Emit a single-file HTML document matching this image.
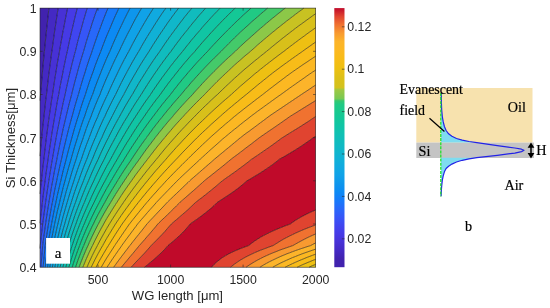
<!DOCTYPE html>
<html><head><meta charset="utf-8"><title>Figure</title>
<style>html,body{margin:0;padding:0;background:#fff}svg{display:block}text{font-family:"Liberation Sans",sans-serif;fill:#262626}.s{font-family:"Liberation Serif",serif;fill:#000;stroke:#000;stroke-width:0.2px}</style>
</head><body>
<svg width="550" height="308" viewBox="0 0 550 308">
<defs><linearGradient id="cb" x1="0" y1="1" x2="0" y2="0"><stop offset="0.0000" stop-color="#4122ae"/><stop offset="0.0323" stop-color="#4122ae"/><stop offset="0.0645" stop-color="#4429c4"/><stop offset="0.0968" stop-color="#4731d6"/><stop offset="0.1290" stop-color="#463ae6"/><stop offset="0.1613" stop-color="#4046f0"/><stop offset="0.1935" stop-color="#3656f8"/><stop offset="0.2258" stop-color="#2868fa"/><stop offset="0.2581" stop-color="#167afa"/><stop offset="0.2903" stop-color="#0c8af4"/><stop offset="0.3226" stop-color="#0e96ec"/><stop offset="0.3548" stop-color="#10a2e8"/><stop offset="0.3871" stop-color="#10aae0"/><stop offset="0.4194" stop-color="#10b1d6"/><stop offset="0.4516" stop-color="#10b7ca"/><stop offset="0.4839" stop-color="#10bcbe"/><stop offset="0.5161" stop-color="#10c1b2"/><stop offset="0.5484" stop-color="#10c5a4"/><stop offset="0.5806" stop-color="#14c896"/><stop offset="0.6280" stop-color="#20ca84"/><stop offset="0.6420" stop-color="#34c870"/><stop offset="0.6500" stop-color="#78c854"/><stop offset="0.6840" stop-color="#9cc844"/><stop offset="0.6930" stop-color="#d2c21e"/><stop offset="0.7300" stop-color="#dcc018"/><stop offset="0.7700" stop-color="#eec012"/><stop offset="0.8065" stop-color="#f8bc18"/><stop offset="0.8387" stop-color="#fcb822"/><stop offset="0.8710" stop-color="#fcb42a"/><stop offset="0.9032" stop-color="#f89a30"/><stop offset="0.9355" stop-color="#f07230"/><stop offset="0.9677" stop-color="#e04430"/><stop offset="1.0000" stop-color="#c00a2a"/></linearGradient></defs>
<rect width="550" height="308" fill="#fff"/>
<g><path d="M40.0 94.5 L40.0 100.5 L40.5 94.5 L42.4 72.9 L42.9 66.9 L44.4 51.3 L45.8 37.0 L46.6 29.7 L48.7 10.3 L49.0 8.1 L48.7 8.1 L45.8 8.1 L42.9 8.1 L40.0 8.1 L40.0 29.7 L40.0 51.3 L40.0 72.9 L40.0 94.5Z" fill="#4122ae"/>
<path d="M40.0 137.7 L40.0 156.1 L41.7 137.6 L42.9 125.8 L44.0 116.1 L45.8 99.7 L46.5 94.5 L48.7 75.1 L49.0 72.9 L51.6 53.1 L51.9 51.3 L54.5 32.0 L54.9 29.7 L57.4 12.8 L58.2 8.1 L57.4 8.1 L54.5 8.1 L51.6 8.1 L49.0 8.1 L48.7 10.3 L46.6 29.7 L45.8 37.0 L44.4 51.3 L42.9 66.9 L42.4 72.9 L40.5 94.5 L40.0 100.5 L40.0 116.1 L40.0 137.7Z" fill="#4429c4"/>
<path d="M40.0 180.8 L40.0 193.9 L41.4 180.8 L42.9 167.0 L43.9 159.2 L45.8 142.5 L46.4 137.7 L48.7 120.3 L49.3 116.1 L51.6 100.1 L52.5 94.5 L54.5 80.8 L55.8 72.9 L57.4 62.9 L59.5 51.3 L60.3 46.3 L63.2 30.4 L63.4 29.7 L66.1 15.3 L67.6 8.1 L66.1 8.1 L63.2 8.1 L60.3 8.1 L58.2 8.1 L57.4 12.8 L54.9 29.7 L54.5 32.0 L51.9 51.3 L51.6 53.1 L49.0 72.9 L48.7 75.1 L46.5 94.5 L45.8 99.7 L44.0 116.1 L42.9 125.8 L41.7 137.7 L40.0 156.1 L40.0 159.2 L40.0 180.8Z" fill="#4731d6"/>
<path d="M40.0 202.4 L40.0 223.2 L42.4 202.4 L42.9 197.6 L45.1 180.8 L45.8 175.0 L48.1 159.2 L48.7 154.6 L51.3 137.7 L51.6 135.3 L54.5 117.7 L54.8 116.1 L57.4 101.2 L58.7 94.5 L60.3 85.4 L62.8 72.9 L63.2 70.5 L66.1 56.5 L67.3 51.3 L69.0 43.0 L71.9 30.3 L72.1 29.7 L74.8 17.8 L77.3 8.1 L74.8 8.1 L71.9 8.1 L69.0 8.1 L67.6 8.1 L66.1 15.3 L63.4 29.7 L63.2 30.4 L60.3 46.3 L59.5 51.3 L57.4 62.9 L55.8 72.9 L54.5 80.8 L52.5 94.5 L51.6 100.1 L49.3 116.1 L48.7 120.3 L46.4 137.6 L45.8 142.5 L43.9 159.2 L42.9 167.0 L41.4 180.8 L40.0 193.9 L40.0 202.4Z" fill="#463ae6"/>
<path d="M40.0 245.6 L40.0 248.5 L40.2 245.6 L42.7 224.0 L42.9 222.3 L45.6 202.4 L45.8 200.9 L48.7 181.6 L48.8 180.8 L51.6 163.7 L52.4 159.2 L54.5 146.7 L56.2 137.7 L57.4 131.0 L60.3 116.6 L60.4 116.1 L63.2 102.7 L65.1 94.5 L66.1 89.6 L69.0 76.6 L69.9 72.9 L71.9 64.4 L74.8 53.2 L75.4 51.3 L77.7 41.7 L80.6 31.0 L81.0 29.7 L83.5 20.5 L86.4 10.8 L87.3 8.1 L86.4 8.1 L83.5 8.1 L80.6 8.1 L77.7 8.1 L77.3 8.1 L74.8 17.8 L72.1 29.7 L71.9 30.3 L69.0 43.0 L67.3 51.3 L66.1 56.5 L63.2 70.5 L62.8 72.9 L60.3 85.4 L58.7 94.5 L57.4 101.2 L54.8 116.1 L54.5 117.7 L51.6 135.3 L51.3 137.7 L48.7 154.6 L48.1 159.2 L45.8 175.0 L45.1 180.8 L42.9 197.6 L42.4 202.4 L40.0 223.2 L40.0 224.0 L40.0 245.6Z" fill="#4046f0"/>
<path d="M40.0 267.2 L40.9 267.2 L42.7 245.6 L42.9 243.5 L45.6 224.0 L45.8 222.2 L48.7 203.7 L48.9 202.4 L51.6 186.5 L52.7 180.8 L54.5 170.8 L56.9 159.2 L57.4 156.4 L60.3 142.1 L61.3 137.7 L63.2 128.7 L66.1 116.5 L66.2 116.1 L69.0 104.4 L71.7 94.5 L71.9 93.4 L74.8 81.8 L77.3 72.9 L77.7 71.2 L80.6 60.9 L83.5 51.5 L83.6 51.3 L86.4 41.5 L89.3 32.3 L90.2 29.7 L92.2 23.2 L95.1 14.6 L97.5 8.1 L95.1 8.1 L92.2 8.1 L89.3 8.1 L87.3 8.1 L86.4 10.8 L83.5 20.5 L81.0 29.7 L80.6 31.0 L77.7 41.7 L75.4 51.3 L74.8 53.2 L71.9 64.4 L69.9 72.9 L69.0 76.6 L66.1 89.6 L65.1 94.5 L63.2 102.7 L60.4 116.1 L60.3 116.6 L57.4 131.0 L56.2 137.7 L54.5 146.7 L52.4 159.2 L51.6 163.7 L48.8 180.8 L48.7 181.6 L45.8 200.9 L45.6 202.4 L42.9 222.3 L42.7 224.0 L40.2 245.6 L40.0 248.5 L40.0 267.2Z" fill="#3656f8"/>
<path d="M40.9 267.2 L42.9 267.2 L43.1 267.2 L45.2 245.6 L45.8 241.0 L48.5 224.0 L48.7 222.6 L51.6 206.2 L52.4 202.4 L54.5 191.0 L56.7 180.8 L57.4 177.2 L60.3 164.0 L61.5 159.2 L63.2 151.3 L66.1 139.3 L66.5 137.7 L69.0 127.6 L71.9 117.0 L72.2 116.1 L74.8 106.4 L77.7 96.7 L78.4 94.5 L80.6 86.6 L83.5 77.0 L84.9 72.9 L86.4 67.8 L89.3 59.0 L92.1 51.3 L92.2 50.8 L95.1 42.1 L98.0 33.9 L99.6 29.7 L100.9 26.1 L103.8 18.4 L106.7 11.1 L108.0 8.1 L106.7 8.1 L103.8 8.1 L100.9 8.1 L98.0 8.1 L97.5 8.1 L95.1 14.6 L92.2 23.2 L90.2 29.7 L89.3 32.3 L86.4 41.5 L83.6 51.3 L83.5 51.5 L80.6 60.9 L77.7 71.2 L77.3 72.9 L74.8 81.8 L71.9 93.4 L71.7 94.5 L69.0 104.4 L66.2 116.1 L66.1 116.5 L63.2 128.7 L61.3 137.7 L60.3 142.1 L57.4 156.4 L56.9 159.2 L54.5 170.8 L52.7 180.8 L51.6 186.5 L48.9 202.4 L48.7 203.7 L45.8 222.2 L45.6 224.0 L42.9 243.5 L42.7 245.6 L40.9 267.2Z" fill="#2868fa"/>
<path d="M43.1 267.2 L45.3 267.2 L45.8 262.1 L47.8 245.6 L48.7 239.6 L51.5 224.0 L51.6 223.5 L54.5 208.7 L55.9 202.4 L57.4 195.2 L60.3 182.7 L60.8 180.8 L63.2 170.5 L66.1 159.6 L66.2 159.2 L69.0 148.1 L71.9 137.7 L71.9 137.7 L74.8 127.3 L77.7 117.9 L78.3 116.1 L80.6 108.5 L83.5 99.7 L85.4 94.5 L86.4 91.1 L89.3 82.2 L92.2 74.0 L92.7 72.9 L95.1 65.8 L98.0 58.2 L100.8 51.3 L100.9 51.0 L103.8 43.2 L106.7 35.9 L109.4 29.7 L109.7 29.0 L112.6 22.0 L115.5 15.4 L118.4 9.2 L118.9 8.1 L118.4 8.1 L115.5 8.1 L112.6 8.1 L109.7 8.1 L108.0 8.1 L106.7 11.1 L103.8 18.4 L100.9 26.1 L99.6 29.7 L98.0 33.9 L95.1 42.1 L92.2 50.8 L92.1 51.3 L89.3 59.0 L86.4 67.8 L84.9 72.9 L83.5 77.0 L80.6 86.6 L78.4 94.5 L77.7 96.7 L74.8 106.4 L72.2 116.1 L71.9 117.0 L69.0 127.6 L66.5 137.7 L66.1 139.3 L63.2 151.3 L61.5 159.2 L60.3 164.0 L57.4 177.2 L56.7 180.8 L54.5 191.0 L52.4 202.4 L51.6 206.2 L48.7 222.6 L48.5 224.0 L45.8 241.0 L45.2 245.6 L43.1 267.2Z" fill="#167afa"/>
<path d="M45.3 267.2 L45.8 267.2 L47.6 267.2 L48.7 257.9 L50.5 245.6 L51.6 239.0 L54.5 224.6 L54.6 224.0 L57.4 211.1 L59.6 202.4 L60.3 199.1 L63.2 187.4 L65.0 180.8 L66.1 176.6 L69.0 166.1 L71.1 159.2 L71.9 156.2 L74.8 146.1 L77.5 137.7 L77.7 136.9 L80.6 127.6 L83.5 119.2 L84.7 116.1 L86.4 110.8 L89.3 102.7 L92.2 95.3 L92.6 94.5 L95.1 87.2 L98.0 79.5 L100.7 72.9 L100.9 72.2 L103.8 65.0 L106.7 58.2 L109.7 51.7 L109.9 51.3 L112.6 44.8 L115.5 38.2 L118.4 31.9 L119.4 29.7 L121.3 25.7 L124.2 19.6 L127.1 13.8 L130.0 8.2 L130.0 8.1 L130.0 8.1 L127.1 8.1 L124.2 8.1 L121.3 8.1 L118.9 8.1 L118.4 9.2 L115.5 15.4 L112.6 22.0 L109.7 29.0 L109.4 29.7 L106.7 35.9 L103.8 43.2 L100.9 51.0 L100.8 51.3 L98.0 58.2 L95.1 65.8 L92.7 72.9 L92.2 74.0 L89.3 82.2 L86.4 91.1 L85.4 94.5 L83.5 99.7 L80.6 108.5 L78.3 116.1 L77.7 117.9 L74.8 127.3 L71.9 137.7 L71.9 137.7 L69.0 148.1 L66.2 159.2 L66.1 159.6 L63.2 170.5 L60.8 180.8 L60.3 182.7 L57.4 195.2 L55.9 202.4 L54.5 208.7 L51.6 223.5 L51.5 224.0 L48.7 239.6 L47.8 245.6 L45.8 262.1 L45.3 267.2Z" fill="#0c8af4"/>
<path d="M47.6 267.2 L48.7 267.2 L49.9 267.2 L51.6 255.3 L53.2 245.6 L54.5 239.0 L57.4 225.9 L57.9 224.0 L60.3 213.6 L63.2 202.8 L63.3 202.4 L66.1 191.8 L69.0 182.0 L69.4 180.8 L71.9 172.2 L74.8 163.1 L76.2 159.2 L77.7 154.0 L80.6 145.1 L83.3 137.7 L83.5 136.8 L86.4 128.4 L89.3 120.7 L91.2 116.1 L92.2 113.2 L95.1 105.8 L98.0 98.8 L100.0 94.5 L100.9 91.9 L103.8 84.7 L106.7 77.9 L109.0 72.9 L109.7 71.3 L112.6 64.8 L115.5 58.7 L118.4 52.9 L119.2 51.3 L121.3 46.7 L124.2 40.7 L127.1 34.9 L129.8 29.7 L130.0 29.3 L132.9 23.7 L135.8 18.2 L138.7 13.1 L141.6 8.1 L138.7 8.1 L135.8 8.1 L132.9 8.1 L130.0 8.1 L130.0 8.2 L127.1 13.8 L124.2 19.6 L121.3 25.7 L119.4 29.7 L118.4 31.9 L115.5 38.2 L112.6 44.8 L109.9 51.3 L109.7 51.7 L106.7 58.2 L103.8 65.0 L100.9 72.2 L100.7 72.9 L98.0 79.5 L95.1 87.2 L92.6 94.5 L92.2 95.3 L89.3 102.7 L86.4 110.8 L84.7 116.1 L83.5 119.2 L80.6 127.6 L77.7 136.9 L77.5 137.7 L74.8 146.1 L71.9 156.2 L71.1 159.2 L69.0 166.1 L66.1 176.6 L65.0 180.8 L63.2 187.4 L60.3 199.1 L59.6 202.4 L57.4 211.1 L54.6 224.0 L54.5 224.6 L51.6 239.0 L50.5 245.6 L48.7 257.9 L47.6 267.2Z" fill="#0e96ec"/>
<path d="M49.9 267.2 L51.6 267.2 L52.4 267.2 L54.5 253.9 L56.1 245.6 L57.4 239.4 L60.3 227.4 L61.2 224.0 L63.2 216.2 L66.1 206.0 L67.2 202.4 L69.0 196.1 L71.9 186.8 L73.9 180.8 L74.8 177.9 L77.7 169.2 L80.6 161.2 L81.4 159.2 L83.5 152.8 L86.4 144.8 L89.2 137.7 L89.3 137.3 L92.2 129.6 L95.1 122.5 L98.0 116.1 L98.0 115.8 L100.9 108.9 L103.8 102.4 L106.7 96.3 L107.6 94.5 L109.7 89.7 L112.6 83.3 L115.5 77.2 L117.6 72.9 L118.4 71.2 L121.3 65.3 L124.2 59.7 L127.1 54.4 L128.8 51.3 L130.0 49.0 L132.9 43.3 L135.8 38.0 L138.7 32.8 L140.5 29.7 L141.6 27.7 L144.5 22.7 L147.4 17.8 L150.3 13.1 L153.2 8.6 L153.5 8.1 L153.2 8.1 L150.3 8.1 L147.4 8.1 L144.5 8.1 L141.6 8.1 L141.6 8.1 L138.7 13.1 L135.8 18.2 L132.9 23.7 L130.0 29.3 L129.8 29.7 L127.1 34.9 L124.2 40.7 L121.3 46.7 L119.2 51.3 L118.4 52.9 L115.5 58.7 L112.6 64.8 L109.7 71.3 L109.0 72.9 L106.7 77.9 L103.8 84.7 L100.9 91.9 L100.0 94.5 L98.0 98.8 L95.1 105.8 L92.2 113.2 L91.2 116.1 L89.3 120.7 L86.4 128.4 L83.5 136.8 L83.3 137.7 L80.6 145.1 L77.7 154.0 L76.2 159.2 L74.8 163.1 L71.9 172.2 L69.4 180.8 L69.0 182.0 L66.1 191.8 L63.3 202.4 L63.2 202.8 L60.3 213.6 L57.9 224.0 L57.4 225.9 L54.5 239.0 L53.2 245.6 L51.6 255.3 L49.9 267.2Z" fill="#10a2e8"/>
<path d="M52.4 267.2 L54.5 267.2 L54.9 267.2 L57.4 253.3 L59.0 245.6 L60.3 240.2 L63.2 229.0 L64.7 224.0 L66.1 218.8 L69.0 209.2 L71.3 202.4 L71.9 200.3 L74.8 191.3 L77.7 183.2 L78.6 180.8 L80.6 175.0 L83.5 167.2 L86.4 160.0 L86.8 159.2 L89.3 152.3 L92.2 145.0 L95.1 138.1 L95.4 137.7 L98.0 131.2 L100.9 124.6 L103.8 118.3 L105.0 116.1 L106.7 112.1 L109.7 106.0 L112.6 100.2 L115.5 94.7 L115.6 94.5 L118.4 88.6 L121.3 82.7 L124.2 77.1 L126.5 72.9 L127.1 71.7 L130.0 66.3 L132.9 61.1 L135.8 56.2 L138.7 51.4 L138.8 51.3 L141.6 46.2 L144.5 41.2 L147.4 36.4 L150.3 31.7 L151.6 29.7 L153.2 27.1 L156.1 22.5 L159.0 18.0 L161.9 13.7 L164.8 9.5 L165.8 8.1 L164.8 8.1 L161.9 8.1 L159.0 8.1 L156.1 8.1 L153.5 8.1 L153.2 8.6 L150.3 13.1 L147.4 17.8 L144.5 22.7 L141.6 27.7 L140.5 29.7 L138.7 32.8 L135.8 38.0 L132.9 43.3 L130.0 49.0 L128.8 51.3 L127.1 54.4 L124.2 59.7 L121.3 65.3 L118.4 71.2 L117.6 72.9 L115.5 77.2 L112.6 83.3 L109.7 89.7 L107.6 94.5 L106.7 96.3 L103.8 102.4 L100.9 108.9 L98.0 115.8 L98.0 116.1 L95.1 122.5 L92.2 129.6 L89.3 137.3 L89.2 137.7 L86.4 144.8 L83.5 152.8 L81.4 159.2 L80.6 161.2 L77.7 169.2 L74.8 177.9 L73.9 180.8 L71.9 186.8 L69.0 196.1 L67.2 202.4 L66.1 206.0 L63.2 216.2 L61.2 224.0 L60.3 227.4 L57.4 239.4 L56.1 245.6 L54.5 253.9 L52.4 267.2Z" fill="#10aae0"/>
<path d="M54.9 267.2 L57.4 267.2 L57.5 267.2 L60.3 253.2 L62.1 245.6 L63.2 241.3 L66.1 230.9 L68.3 224.0 L69.0 221.4 L71.9 212.4 L74.8 204.1 L75.5 202.4 L77.7 195.8 L80.6 188.0 L83.5 180.8 L83.5 180.7 L86.4 173.1 L89.3 166.1 L92.2 159.5 L92.4 159.2 L95.1 152.4 L98.0 145.7 L100.9 139.3 L101.8 137.7 L103.8 133.0 L106.7 126.8 L109.7 121.0 L112.2 116.1 L112.6 115.4 L115.5 109.6 L118.4 104.1 L121.3 98.8 L123.8 94.5 L124.2 93.7 L127.1 88.1 L130.0 82.8 L132.9 77.7 L135.7 72.9 L135.8 72.7 L138.7 67.7 L141.6 62.9 L144.5 58.3 L147.4 53.9 L149.1 51.3 L150.3 49.3 L153.2 44.6 L156.1 40.1 L159.0 35.7 L161.9 31.4 L163.1 29.7 L164.8 27.1 L167.7 22.9 L170.6 18.8 L173.5 14.8 L176.4 11.0 L178.6 8.1 L176.4 8.1 L173.5 8.1 L170.6 8.1 L167.7 8.1 L165.8 8.1 L164.8 9.5 L161.9 13.7 L159.0 18.0 L156.1 22.5 L153.2 27.1 L151.6 29.7 L150.3 31.7 L147.4 36.4 L144.5 41.2 L141.6 46.2 L138.8 51.3 L138.7 51.4 L135.8 56.2 L132.9 61.1 L130.0 66.3 L127.1 71.7 L126.5 72.9 L124.2 77.1 L121.3 82.7 L118.4 88.6 L115.6 94.5 L115.5 94.7 L112.6 100.2 L109.7 106.0 L106.7 112.1 L105.0 116.1 L103.8 118.3 L100.9 124.6 L98.0 131.2 L95.4 137.7 L95.1 138.1 L92.2 145.0 L89.3 152.3 L86.8 159.2 L86.4 160.0 L83.5 167.2 L80.6 175.0 L78.6 180.8 L77.7 183.2 L74.8 191.3 L71.9 200.3 L71.3 202.4 L69.0 209.2 L66.1 218.8 L64.7 224.0 L63.2 229.0 L60.3 240.2 L59.0 245.6 L57.4 253.3 L54.9 267.2Z" fill="#10b1d6"/>
<path d="M57.5 267.2 L60.2 267.2 L60.3 266.4 L63.2 253.7 L65.3 245.6 L66.1 242.7 L69.0 233.0 L71.9 224.2 L72.0 224.0 L74.8 215.6 L77.7 207.7 L79.8 202.4 L80.6 200.2 L83.5 192.6 L86.4 185.6 L88.5 180.8 L89.3 178.9 L92.2 172.0 L95.1 165.6 L98.0 159.6 L98.2 159.2 L100.9 153.0 L103.8 146.8 L106.7 140.9 L108.4 137.7 L109.7 135.0 L112.6 129.3 L115.5 123.8 L118.4 118.5 L119.8 116.1 L121.3 113.3 L124.2 108.0 L127.1 103.0 L130.0 98.2 L132.3 94.5 L132.9 93.5 L135.8 88.4 L138.7 83.4 L141.6 78.7 L144.5 74.1 L145.3 72.9 L147.4 69.5 L150.3 65.0 L153.2 60.7 L156.1 56.5 L159.0 52.5 L159.8 51.3 L161.9 48.2 L164.8 43.9 L167.7 39.7 L170.6 35.6 L173.5 31.7 L175.0 29.7 L176.4 27.8 L179.3 23.9 L182.2 20.1 L185.1 16.4 L188.0 12.8 L190.9 9.3 L191.9 8.1 L190.9 8.1 L188.0 8.1 L185.1 8.1 L182.2 8.1 L179.3 8.1 L178.6 8.1 L176.4 11.0 L173.5 14.8 L170.6 18.8 L167.7 22.9 L164.8 27.1 L163.1 29.7 L161.9 31.4 L159.0 35.7 L156.1 40.1 L153.2 44.6 L150.3 49.3 L149.1 51.3 L147.4 53.9 L144.5 58.3 L141.6 62.9 L138.7 67.7 L135.8 72.7 L135.7 72.9 L132.9 77.7 L130.0 82.8 L127.1 88.1 L124.2 93.7 L123.8 94.5 L121.3 98.8 L118.4 104.1 L115.5 109.6 L112.6 115.4 L112.2 116.1 L109.7 121.0 L106.7 126.8 L103.8 133.0 L101.8 137.7 L100.9 139.3 L98.0 145.7 L95.1 152.4 L92.4 159.2 L92.2 159.5 L89.3 166.1 L86.4 173.1 L83.5 180.7 L83.5 180.8 L80.6 188.0 L77.7 195.8 L75.5 202.4 L74.8 204.1 L71.9 212.4 L69.0 221.4 L68.3 224.0 L66.1 230.9 L63.2 241.3 L62.1 245.6 L60.3 253.2 L57.5 267.2Z" fill="#10b7ca"/>
<path d="M60.2 267.2 L60.3 267.2 L63.0 267.2 L63.2 266.1 L66.1 254.5 L68.6 245.6 L69.0 244.3 L71.9 235.2 L74.8 226.8 L75.9 224.0 L77.7 218.8 L80.6 211.3 L83.5 204.3 L84.4 202.4 L86.4 197.3 L89.3 190.5 L92.2 184.1 L93.8 180.8 L95.1 177.8 L98.0 171.6 L100.9 165.7 L103.8 160.1 L104.3 159.2 L106.7 154.0 L109.7 148.2 L112.6 142.7 L115.3 137.7 L115.5 137.4 L118.4 131.9 L121.3 126.7 L124.2 121.7 L127.1 117.0 L127.6 116.1 L130.0 112.1 L132.9 107.3 L135.8 102.7 L138.7 98.3 L141.2 94.5 L141.6 93.9 L144.5 89.2 L147.4 84.6 L150.3 80.1 L153.2 75.8 L155.2 72.9 L156.1 71.6 L159.0 67.4 L161.9 63.3 L164.8 59.4 L167.7 55.5 L170.6 51.8 L171.0 51.3 L173.5 47.8 L176.4 43.8 L179.3 40.0 L182.2 36.2 L185.1 32.6 L187.5 29.7 L188.0 29.0 L190.9 25.3 L193.8 21.8 L196.7 18.3 L199.6 14.9 L202.5 11.6 L205.4 8.4 L205.7 8.1 L205.4 8.1 L202.5 8.1 L199.6 8.1 L196.7 8.1 L193.8 8.1 L191.9 8.1 L190.9 9.3 L188.0 12.8 L185.1 16.4 L182.2 20.1 L179.3 23.9 L176.4 27.8 L175.0 29.7 L173.5 31.7 L170.6 35.6 L167.7 39.7 L164.8 43.9 L161.9 48.2 L159.8 51.3 L159.0 52.5 L156.1 56.5 L153.2 60.7 L150.3 65.0 L147.4 69.5 L145.3 72.9 L144.5 74.1 L141.6 78.7 L138.7 83.4 L135.8 88.4 L132.9 93.5 L132.3 94.5 L130.0 98.2 L127.1 103.0 L124.2 108.0 L121.3 113.3 L119.8 116.1 L118.4 118.5 L115.5 123.8 L112.6 129.3 L109.7 135.0 L108.4 137.7 L106.7 140.9 L103.8 146.8 L100.9 153.0 L98.2 159.2 L98.0 159.6 L95.1 165.6 L92.2 172.0 L89.3 178.9 L88.5 180.8 L86.4 185.6 L83.5 192.6 L80.6 200.2 L79.8 202.4 L77.7 207.7 L74.8 215.6 L72.0 224.0 L71.9 224.2 L69.0 233.0 L66.1 242.7 L65.3 245.6 L63.2 253.7 L60.3 266.4 L60.2 267.2Z" fill="#10bcbe"/>
<path d="M63.0 267.2 L63.2 267.2 L65.9 267.2 L66.1 266.3 L69.0 255.6 L71.9 246.2 L72.1 245.6 L74.8 237.6 L77.7 229.7 L79.9 224.0 L80.6 222.2 L83.5 215.0 L86.4 208.3 L89.1 202.4 L89.3 201.9 L92.2 195.3 L95.1 189.1 L98.0 183.3 L99.3 180.8 L100.9 177.4 L103.8 171.7 L106.7 166.2 L109.7 160.9 L110.6 159.2 L112.6 155.5 L115.5 150.0 L118.4 144.8 L121.3 139.8 L122.5 137.7 L124.2 134.8 L127.1 129.9 L130.0 125.1 L132.9 120.5 L135.8 116.1 L135.8 116.1 L138.7 111.6 L141.6 107.2 L144.5 102.9 L147.4 98.8 L150.3 94.8 L150.5 94.5 L153.2 90.4 L156.1 86.1 L159.0 82.0 L161.9 77.9 L164.8 74.0 L165.6 72.9 L167.7 70.1 L170.6 66.2 L173.5 62.5 L176.4 58.9 L179.3 55.3 L182.2 51.8 L182.7 51.3 L185.1 48.1 L188.0 44.5 L190.9 40.9 L193.8 37.4 L196.7 34.0 L199.6 30.6 L200.4 29.7 L202.5 27.2 L205.4 23.9 L208.3 20.7 L211.2 17.5 L214.1 14.4 L217.0 11.3 L219.9 8.3 L220.1 8.1 L219.9 8.1 L217.0 8.1 L214.1 8.1 L211.2 8.1 L208.3 8.1 L205.7 8.1 L205.4 8.4 L202.5 11.6 L199.6 14.9 L196.7 18.3 L193.8 21.8 L190.9 25.3 L188.0 29.0 L187.5 29.7 L185.1 32.6 L182.2 36.2 L179.3 40.0 L176.4 43.8 L173.5 47.8 L171.0 51.3 L170.6 51.8 L167.7 55.5 L164.8 59.4 L161.9 63.3 L159.0 67.4 L156.1 71.6 L155.2 72.9 L153.2 75.8 L150.3 80.1 L147.4 84.6 L144.5 89.2 L141.6 93.9 L141.2 94.5 L138.7 98.3 L135.8 102.7 L132.9 107.3 L130.0 112.1 L127.6 116.1 L127.1 117.0 L124.2 121.7 L121.3 126.7 L118.4 131.9 L115.5 137.4 L115.3 137.7 L112.6 142.7 L109.7 148.2 L106.7 154.0 L104.3 159.2 L103.8 160.1 L100.9 165.7 L98.0 171.6 L95.1 177.8 L93.8 180.8 L92.2 184.1 L89.3 190.5 L86.4 197.3 L84.4 202.4 L83.5 204.3 L80.6 211.3 L77.7 218.8 L75.9 224.0 L74.8 226.8 L71.9 235.2 L69.0 244.3 L68.6 245.6 L66.1 254.5 L63.2 266.1 L63.0 267.2Z" fill="#10c1b2"/>
<path d="M65.9 267.2 L66.1 267.2 L69.0 267.2 L69.0 266.9 L71.9 257.1 L74.8 248.3 L75.8 245.6 L77.7 240.2 L80.6 232.6 L83.5 225.5 L84.2 224.0 L86.4 218.7 L89.3 212.2 L92.2 206.1 L94.1 202.4 L95.1 200.2 L98.0 194.1 L100.9 188.5 L103.8 183.0 L105.1 180.8 L106.7 177.6 L109.7 172.2 L112.6 167.1 L115.5 162.2 L117.3 159.2 L118.4 157.2 L121.3 152.1 L124.2 147.2 L127.1 142.4 L130.0 137.9 L130.1 137.7 L132.9 133.2 L135.8 128.6 L138.7 124.3 L141.6 120.1 L144.4 116.1 L144.5 116.0 L147.4 111.7 L150.3 107.6 L153.2 103.7 L156.1 99.8 L159.0 96.1 L160.3 94.5 L161.9 92.1 L164.8 88.1 L167.7 84.2 L170.6 80.4 L173.5 76.7 L176.4 73.0 L176.5 72.9 L179.3 69.4 L182.2 65.8 L185.1 62.4 L188.0 59.0 L190.9 55.7 L193.8 52.5 L194.9 51.3 L196.7 49.1 L199.6 45.6 L202.5 42.3 L205.4 39.0 L208.3 35.8 L211.2 32.6 L214.0 29.7 L214.1 29.5 L217.0 26.4 L219.9 23.3 L222.8 20.3 L225.7 17.4 L228.6 14.5 L231.5 11.6 L234.4 8.8 L235.2 8.1 L234.4 8.1 L231.5 8.1 L228.6 8.1 L225.7 8.1 L222.8 8.1 L220.1 8.1 L219.9 8.3 L217.0 11.3 L214.1 14.4 L211.2 17.5 L208.3 20.7 L205.4 23.9 L202.5 27.2 L200.4 29.7 L199.6 30.6 L196.7 34.0 L193.8 37.4 L190.9 40.9 L188.0 44.5 L185.1 48.1 L182.7 51.3 L182.2 51.8 L179.3 55.3 L176.4 58.9 L173.5 62.5 L170.6 66.2 L167.7 70.1 L165.6 72.9 L164.8 74.0 L161.9 77.9 L159.0 82.0 L156.1 86.1 L153.2 90.4 L150.5 94.5 L150.3 94.8 L147.4 98.8 L144.5 102.9 L141.6 107.2 L138.7 111.6 L135.8 116.1 L135.8 116.1 L132.9 120.5 L130.0 125.1 L127.1 129.9 L124.2 134.8 L122.5 137.6 L121.3 139.8 L118.4 144.8 L115.5 150.0 L112.6 155.5 L110.6 159.2 L109.7 160.9 L106.7 166.2 L103.8 171.7 L100.9 177.4 L99.3 180.8 L98.0 183.3 L95.1 189.1 L92.2 195.3 L89.3 201.9 L89.1 202.4 L86.4 208.3 L83.5 215.0 L80.6 222.2 L79.9 224.0 L77.7 229.7 L74.8 237.6 L72.1 245.6 L71.9 246.2 L69.0 255.6 L66.1 266.3 L65.9 267.2Z" fill="#10c5a4"/>
<path d="M69.0 267.2 L69.0 267.2 L71.9 267.2 L72.2 267.2 L74.8 258.8 L77.7 250.6 L79.6 245.6 L80.6 242.9 L83.5 235.7 L86.4 228.9 L88.7 224.0 L89.3 222.5 L92.2 216.3 L95.1 210.4 L98.0 204.8 L99.3 202.4 L100.9 199.2 L103.8 193.6 L106.7 188.4 L109.7 183.3 L111.1 180.8 L112.6 178.3 L115.5 173.3 L118.4 168.5 L121.3 163.8 L124.2 159.4 L124.2 159.2 L127.1 154.5 L130.0 149.8 L132.9 145.3 L135.8 141.0 L138.0 137.7 L138.7 136.7 L141.6 132.4 L144.5 128.2 L147.4 124.1 L150.3 120.2 L153.2 116.4 L153.4 116.1 L156.1 112.5 L159.0 108.6 L161.9 104.9 L164.8 101.3 L167.7 97.8 L170.5 94.5 L170.6 94.3 L173.5 90.5 L176.4 86.8 L179.3 83.2 L182.2 79.6 L185.1 76.2 L187.9 72.9 L188.0 72.8 L190.9 69.4 L193.8 66.1 L196.7 62.9 L199.6 59.7 L202.5 56.6 L205.4 53.6 L207.7 51.3 L208.3 50.6 L211.2 47.3 L214.1 44.2 L217.0 41.1 L219.9 38.1 L222.8 35.1 L225.7 32.2 L228.2 29.7 L228.6 29.3 L231.5 26.4 L234.4 23.5 L237.3 20.7 L240.2 18.0 L243.1 15.2 L246.0 12.6 L249.0 10.0 L251.0 8.1 L249.0 8.1 L246.0 8.1 L243.1 8.1 L240.2 8.1 L237.3 8.1 L235.2 8.1 L234.4 8.8 L231.5 11.6 L228.6 14.5 L225.7 17.4 L222.8 20.3 L219.9 23.3 L217.0 26.4 L214.1 29.5 L214.0 29.7 L211.2 32.6 L208.3 35.8 L205.4 39.0 L202.5 42.3 L199.6 45.6 L196.7 49.1 L194.9 51.3 L193.8 52.5 L190.9 55.7 L188.0 59.0 L185.1 62.4 L182.2 65.8 L179.3 69.4 L176.5 72.9 L176.4 73.0 L173.5 76.7 L170.6 80.4 L167.7 84.2 L164.8 88.1 L161.9 92.1 L160.3 94.5 L159.0 96.1 L156.1 99.8 L153.2 103.7 L150.3 107.6 L147.4 111.7 L144.5 116.0 L144.4 116.1 L141.6 120.1 L138.7 124.3 L135.8 128.6 L132.9 133.2 L130.1 137.7 L130.0 137.9 L127.1 142.4 L124.2 147.2 L121.3 152.1 L118.4 157.2 L117.3 159.2 L115.5 162.2 L112.6 167.1 L109.7 172.2 L106.7 177.6 L105.1 180.8 L103.8 183.0 L100.9 188.5 L98.0 194.1 L95.1 200.2 L94.1 202.4 L92.2 206.1 L89.3 212.2 L86.4 218.7 L84.2 224.0 L83.5 225.5 L80.6 232.6 L77.7 240.2 L75.8 245.6 L74.8 248.3 L71.9 257.1 L69.0 266.9 L69.0 267.2Z" fill="#14c896"/>
<path d="M72.2 267.2 L74.8 267.2 L75.6 267.2 L77.7 260.8 L80.6 253.1 L83.5 245.9 L83.7 245.6 L86.4 239.0 L89.3 232.5 L92.2 226.3 L93.4 224.0 L95.1 220.4 L98.0 214.7 L100.9 209.3 L103.8 204.1 L104.8 202.4 L106.7 198.9 L109.7 193.7 L112.6 188.8 L115.5 184.1 L117.5 180.8 L118.4 179.4 L121.3 174.7 L124.2 170.2 L127.1 165.8 L130.0 161.6 L131.6 159.2 L132.9 157.2 L135.8 152.8 L138.7 148.5 L141.6 144.3 L144.5 140.3 L146.4 137.6 L147.4 136.3 L150.3 132.3 L153.2 128.4 L156.1 124.6 L159.0 120.9 L161.9 117.3 L162.9 116.1 L164.8 113.7 L167.7 110.1 L170.6 106.6 L173.5 103.2 L176.4 99.8 L179.3 96.6 L181.2 94.5 L182.2 93.2 L185.1 89.7 L188.0 86.3 L190.9 82.9 L193.8 79.6 L196.7 76.4 L199.6 73.3 L200.0 72.9 L202.5 70.1 L205.4 67.0 L208.3 64.0 L211.2 61.0 L214.1 58.1 L217.0 55.3 L219.9 52.5 L221.2 51.3 L222.8 49.5 L225.7 46.6 L228.6 43.6 L231.5 40.8 L234.4 37.9 L237.3 35.2 L240.2 32.4 L243.1 29.7 L243.2 29.7 L246.0 27.0 L249.0 24.4 L251.9 21.7 L254.8 19.2 L257.7 16.6 L260.6 14.1 L263.5 11.6 L266.4 9.2 L267.7 8.1 L266.4 8.1 L263.5 8.1 L260.6 8.1 L257.7 8.1 L254.8 8.1 L251.9 8.1 L251.0 8.1 L249.0 10.0 L246.0 12.6 L243.1 15.2 L240.2 18.0 L237.3 20.7 L234.4 23.5 L231.5 26.4 L228.6 29.3 L228.2 29.7 L225.7 32.2 L222.8 35.1 L219.9 38.1 L217.0 41.1 L214.1 44.2 L211.2 47.3 L208.3 50.6 L207.7 51.3 L205.4 53.6 L202.5 56.6 L199.6 59.7 L196.7 62.9 L193.8 66.1 L190.9 69.4 L188.0 72.8 L187.9 72.9 L185.1 76.2 L182.2 79.6 L179.3 83.2 L176.4 86.8 L173.5 90.5 L170.6 94.3 L170.5 94.5 L167.7 97.8 L164.8 101.3 L161.9 104.9 L159.0 108.6 L156.1 112.5 L153.4 116.1 L153.2 116.4 L150.3 120.2 L147.4 124.1 L144.5 128.2 L141.6 132.4 L138.7 136.7 L138.0 137.7 L135.8 141.0 L132.9 145.3 L130.0 149.8 L127.1 154.5 L124.2 159.2 L124.2 159.4 L121.3 163.8 L118.4 168.5 L115.5 173.3 L112.6 178.3 L111.1 180.8 L109.7 183.3 L106.7 188.4 L103.8 193.6 L100.9 199.2 L99.3 202.4 L98.0 204.8 L95.1 210.4 L92.2 216.3 L89.3 222.5 L88.7 224.0 L86.4 228.9 L83.5 235.7 L80.6 242.9 L79.6 245.6 L77.7 250.6 L74.8 258.8 L72.2 267.2Z" fill="#20ca84"/>
<path d="M75.6 267.2 L77.7 267.2 L79.1 267.2 L80.6 263.1 L83.5 255.8 L86.4 249.0 L88.0 245.6 L89.3 242.5 L92.2 236.3 L95.1 230.3 L98.0 224.6 L98.4 224.0 L100.9 219.1 L103.8 213.9 L106.7 208.9 L109.7 204.0 L110.7 202.4 L112.6 199.2 L115.5 194.4 L118.4 189.8 L121.3 185.3 L124.2 181.0 L124.3 180.8 L127.1 176.6 L130.0 172.3 L132.9 168.1 L135.8 164.1 L138.7 160.2 L139.4 159.2 L141.6 156.0 L144.5 151.9 L147.4 147.9 L150.3 144.1 L153.2 140.3 L155.2 137.7 L156.1 136.5 L159.0 132.8 L161.9 129.2 L164.8 125.6 L167.7 122.2 L170.6 118.8 L173.0 116.1 L173.5 115.4 L176.4 112.0 L179.3 108.7 L182.2 105.5 L185.1 102.3 L188.0 99.2 L190.9 96.2 L192.6 94.5 L193.8 93.0 L196.7 89.8 L199.6 86.6 L202.5 83.4 L205.4 80.4 L208.3 77.3 L211.2 74.4 L212.7 72.9 L214.1 71.4 L217.0 68.5 L219.9 65.7 L222.8 62.9 L225.7 60.1 L228.6 57.4 L231.5 54.8 L234.4 52.1 L235.4 51.3 L237.3 49.4 L240.2 46.6 L243.1 43.9 L246.0 41.2 L249.0 38.6 L251.9 36.0 L254.8 33.4 L257.7 30.9 L259.0 29.7 L260.6 28.3 L263.5 25.8 L266.4 23.4 L269.3 20.9 L272.2 18.5 L275.1 16.2 L278.0 13.8 L280.9 11.5 L283.8 9.2 L285.3 8.1 L283.8 8.1 L280.9 8.1 L278.0 8.1 L275.1 8.1 L272.2 8.1 L269.3 8.1 L267.7 8.1 L266.4 9.2 L263.5 11.6 L260.6 14.1 L257.7 16.6 L254.8 19.2 L251.9 21.7 L249.0 24.4 L246.0 27.0 L243.2 29.7 L243.1 29.7 L240.2 32.4 L237.3 35.2 L234.4 37.9 L231.5 40.8 L228.6 43.6 L225.7 46.6 L222.8 49.5 L221.2 51.3 L219.9 52.5 L217.0 55.3 L214.1 58.1 L211.2 61.0 L208.3 64.0 L205.4 67.0 L202.5 70.1 L200.0 72.9 L199.6 73.3 L196.7 76.4 L193.8 79.6 L190.9 82.9 L188.0 86.3 L185.1 89.7 L182.2 93.2 L181.2 94.5 L179.3 96.6 L176.4 99.8 L173.5 103.2 L170.6 106.6 L167.7 110.1 L164.8 113.7 L162.9 116.1 L161.9 117.3 L159.0 120.9 L156.1 124.6 L153.2 128.4 L150.3 132.3 L147.4 136.3 L146.4 137.7 L144.5 140.3 L141.6 144.3 L138.7 148.5 L135.8 152.8 L132.9 157.2 L131.6 159.2 L130.0 161.6 L127.1 165.8 L124.2 170.2 L121.3 174.7 L118.4 179.4 L117.5 180.8 L115.5 184.1 L112.6 188.8 L109.7 193.7 L106.7 198.9 L104.8 202.4 L103.8 204.1 L100.9 209.3 L98.0 214.7 L95.1 220.4 L93.4 224.0 L92.2 226.3 L89.3 232.5 L86.4 239.0 L83.7 245.6 L83.5 245.9 L80.6 253.1 L77.7 260.8 L75.6 267.2Z" fill="#44ca6a"/>
<path d="M79.1 267.2 L80.6 267.2 L82.9 267.2 L83.5 265.6 L86.4 258.7 L89.3 252.2 L92.2 246.2 L92.5 245.6 L95.1 240.2 L98.0 234.5 L100.9 229.0 L103.7 224.0 L103.8 223.7 L106.7 218.6 L109.7 213.8 L112.6 209.1 L115.5 204.5 L116.9 202.4 L118.4 200.0 L121.3 195.5 L124.2 191.2 L127.1 187.0 L130.0 182.9 L131.5 180.8 L132.9 178.8 L135.8 174.7 L138.7 170.8 L141.6 167.0 L144.5 163.2 L147.4 159.5 L147.6 159.2 L150.3 155.7 L153.2 151.9 L156.1 148.1 L159.0 144.5 L161.9 141.0 L164.6 137.6 L164.8 137.5 L167.7 134.0 L170.6 130.6 L173.5 127.2 L176.4 123.9 L179.3 120.7 L182.2 117.6 L183.6 116.1 L185.1 114.4 L188.0 111.3 L190.9 108.2 L193.8 105.2 L196.7 102.3 L199.6 99.4 L202.5 96.5 L204.6 94.5 L205.4 93.6 L208.3 90.6 L211.2 87.6 L214.1 84.6 L217.0 81.7 L219.9 78.9 L222.8 76.1 L225.7 73.3 L226.2 72.9 L228.6 70.6 L231.5 67.9 L234.4 65.2 L237.3 62.6 L240.2 60.1 L243.1 57.5 L246.0 55.0 L249.0 52.6 L250.5 51.3 L251.9 50.1 L254.8 47.5 L257.7 44.9 L260.6 42.4 L263.5 39.9 L266.4 37.5 L269.3 35.0 L272.2 32.6 L275.1 30.3 L275.8 29.7 L278.0 27.9 L280.9 25.6 L283.8 23.3 L286.7 21.0 L289.6 18.8 L292.5 16.6 L295.4 14.4 L298.3 12.2 L301.2 10.1 L303.9 8.1 L301.2 8.1 L298.3 8.1 L295.4 8.1 L292.5 8.1 L289.6 8.1 L286.7 8.1 L285.3 8.1 L283.8 9.2 L280.9 11.5 L278.0 13.8 L275.1 16.2 L272.2 18.5 L269.3 20.9 L266.4 23.4 L263.5 25.8 L260.6 28.3 L259.0 29.7 L257.7 30.9 L254.8 33.4 L251.9 36.0 L249.0 38.6 L246.0 41.2 L243.1 43.9 L240.2 46.6 L237.3 49.4 L235.4 51.3 L234.4 52.1 L231.5 54.8 L228.6 57.4 L225.7 60.1 L222.8 62.9 L219.9 65.7 L217.0 68.5 L214.1 71.4 L212.7 72.9 L211.2 74.4 L208.3 77.3 L205.4 80.4 L202.5 83.4 L199.6 86.6 L196.7 89.8 L193.8 93.0 L192.6 94.5 L190.9 96.2 L188.0 99.2 L185.1 102.3 L182.2 105.5 L179.3 108.7 L176.4 112.0 L173.5 115.4 L173.0 116.1 L170.6 118.8 L167.7 122.2 L164.8 125.6 L161.9 129.2 L159.0 132.8 L156.1 136.5 L155.2 137.7 L153.2 140.3 L150.3 144.1 L147.4 147.9 L144.5 151.9 L141.6 156.0 L139.4 159.2 L138.7 160.2 L135.8 164.1 L132.9 168.1 L130.0 172.3 L127.1 176.6 L124.3 180.8 L124.2 181.0 L121.3 185.3 L118.4 189.8 L115.5 194.4 L112.6 199.2 L110.7 202.4 L109.7 204.0 L106.7 208.9 L103.8 213.9 L100.9 219.1 L98.4 224.0 L98.0 224.6 L95.1 230.3 L92.2 236.3 L89.3 242.5 L88.0 245.6 L86.4 249.0 L83.5 255.8 L80.6 263.1 L79.1 267.2Z" fill="#8cc848"/>
<path d="M82.9 267.2 L83.5 267.2 L86.4 267.2 L87.0 267.2 L89.3 261.9 L92.2 255.7 L95.1 249.9 L97.4 245.6 L98.0 244.3 L100.9 238.9 L103.8 233.6 L106.7 228.5 L109.4 224.0 L109.7 223.5 L112.6 218.8 L115.5 214.3 L118.4 209.9 L121.3 205.6 L123.5 202.4 L124.2 201.4 L127.1 197.2 L130.0 193.1 L132.9 189.1 L135.8 185.2 L138.7 181.4 L139.1 180.8 L141.6 177.6 L144.5 173.8 L147.4 170.2 L150.3 166.6 L153.2 163.1 L156.1 159.7 L156.5 159.2 L159.0 156.1 L161.9 152.5 L164.8 149.0 L167.7 145.6 L170.6 142.3 L173.5 139.0 L174.7 137.7 L176.4 135.7 L179.3 132.5 L182.2 129.4 L185.1 126.3 L188.0 123.2 L190.9 120.2 L193.8 117.3 L195.0 116.1 L196.7 114.3 L199.6 111.4 L202.5 108.5 L205.4 105.7 L208.3 103.0 L211.2 100.2 L214.1 97.5 L217.0 94.9 L217.5 94.5 L219.9 92.1 L222.8 89.3 L225.7 86.5 L228.6 83.8 L231.5 81.1 L234.4 78.4 L237.3 75.8 L240.2 73.2 L240.6 72.9 L243.1 70.6 L246.0 68.1 L249.0 65.7 L251.9 63.2 L254.8 60.8 L257.7 58.5 L260.6 56.1 L263.5 53.8 L266.4 51.5 L266.6 51.3 L269.3 49.1 L272.2 46.7 L275.1 44.3 L278.0 42.0 L280.9 39.6 L283.8 37.3 L286.7 35.1 L289.6 32.8 L292.5 30.6 L293.7 29.7 L295.4 28.4 L298.3 26.2 L301.2 24.1 L304.1 22.0 L307.0 19.9 L309.9 17.8 L312.8 15.7 L315.7 13.7 L315.7 8.1 L312.8 8.1 L309.9 8.1 L307.0 8.1 L304.1 8.1 L303.9 8.1 L301.2 10.1 L298.3 12.2 L295.4 14.4 L292.5 16.6 L289.6 18.8 L286.7 21.0 L283.8 23.3 L280.9 25.6 L278.0 27.9 L275.8 29.7 L275.1 30.3 L272.2 32.6 L269.3 35.0 L266.4 37.5 L263.5 39.9 L260.6 42.4 L257.7 44.9 L254.8 47.5 L251.9 50.1 L250.5 51.3 L249.0 52.6 L246.0 55.0 L243.1 57.5 L240.2 60.1 L237.3 62.6 L234.4 65.2 L231.5 67.9 L228.6 70.6 L226.2 72.9 L225.7 73.3 L222.8 76.1 L219.9 78.9 L217.0 81.7 L214.1 84.6 L211.2 87.6 L208.3 90.6 L205.4 93.6 L204.6 94.5 L202.5 96.5 L199.6 99.4 L196.7 102.3 L193.8 105.2 L190.9 108.2 L188.0 111.3 L185.1 114.4 L183.6 116.1 L182.2 117.6 L179.3 120.7 L176.4 123.9 L173.5 127.2 L170.6 130.6 L167.7 134.0 L164.8 137.5 L164.6 137.7 L161.9 141.0 L159.0 144.5 L156.1 148.1 L153.2 151.9 L150.3 155.7 L147.6 159.2 L147.4 159.5 L144.5 163.2 L141.6 167.0 L138.7 170.8 L135.8 174.7 L132.9 178.8 L131.5 180.8 L130.0 182.9 L127.1 187.0 L124.2 191.2 L121.3 195.5 L118.4 200.0 L116.9 202.4 L115.5 204.5 L112.6 209.1 L109.7 213.8 L106.7 218.6 L103.8 223.7 L103.7 224.0 L100.9 229.0 L98.0 234.5 L95.1 240.2 L92.5 245.6 L92.2 246.2 L89.3 252.2 L86.4 258.7 L83.5 265.6 L82.9 267.2Z" fill="#c8c222"/>
<path d="M87.0 267.2 L89.3 267.2 L91.3 267.2 L92.2 265.3 L95.1 259.4 L98.0 253.9 L100.9 248.6 L102.7 245.6 L103.8 243.5 L106.7 238.4 L109.7 233.5 L112.6 228.7 L115.5 224.0 L115.5 224.0 L118.4 219.7 L121.3 215.4 L124.2 211.3 L127.1 207.3 L130.0 203.3 L130.6 202.4 L132.9 199.4 L135.8 195.5 L138.7 191.7 L141.6 188.0 L144.5 184.4 L147.4 180.8 L147.4 180.8 L150.3 177.3 L153.2 173.8 L156.1 170.4 L159.0 167.1 L161.9 163.8 L164.8 160.5 L166.0 159.2 L167.7 157.2 L170.6 153.9 L173.5 150.6 L176.4 147.4 L179.3 144.3 L182.2 141.1 L185.1 138.0 L185.5 137.7 L188.0 135.0 L190.9 132.0 L193.8 129.1 L196.7 126.2 L199.6 123.4 L202.5 120.6 L205.4 117.8 L207.2 116.1 L208.3 115.0 L211.2 112.3 L214.1 109.6 L217.0 107.0 L219.9 104.4 L222.8 101.8 L225.7 99.3 L228.6 96.8 L231.3 94.5 L231.5 94.3 L234.4 91.6 L237.3 89.0 L240.2 86.4 L243.1 83.9 L246.0 81.4 L249.0 78.9 L251.9 76.4 L254.8 73.9 L256.0 72.9 L257.7 71.6 L260.6 69.2 L263.5 66.9 L266.4 64.6 L269.3 62.4 L272.2 60.1 L275.1 57.9 L278.0 55.7 L280.9 53.5 L283.8 51.4 L283.9 51.3 L286.7 49.1 L289.6 46.9 L292.5 44.7 L295.4 42.5 L298.3 40.3 L301.2 38.2 L304.1 36.1 L307.0 33.9 L309.9 31.8 L312.8 29.8 L312.9 29.7 L315.7 27.7 L315.7 13.7 L312.8 15.7 L309.9 17.8 L307.0 19.9 L304.1 22.0 L301.2 24.1 L298.3 26.2 L295.4 28.4 L293.7 29.7 L292.5 30.6 L289.6 32.8 L286.7 35.1 L283.8 37.3 L280.9 39.6 L278.0 42.0 L275.1 44.3 L272.2 46.7 L269.3 49.1 L266.6 51.3 L266.4 51.5 L263.5 53.8 L260.6 56.1 L257.7 58.5 L254.8 60.8 L251.9 63.2 L249.0 65.7 L246.0 68.1 L243.1 70.6 L240.6 72.9 L240.2 73.2 L237.3 75.8 L234.4 78.4 L231.5 81.1 L228.6 83.8 L225.7 86.5 L222.8 89.3 L219.9 92.1 L217.5 94.5 L217.0 94.9 L214.1 97.5 L211.2 100.2 L208.3 103.0 L205.4 105.7 L202.5 108.5 L199.6 111.4 L196.7 114.3 L195.0 116.1 L193.8 117.3 L190.9 120.2 L188.0 123.2 L185.1 126.3 L182.2 129.4 L179.3 132.5 L176.4 135.7 L174.7 137.7 L173.5 139.0 L170.6 142.3 L167.7 145.6 L164.8 149.0 L161.9 152.5 L159.0 156.1 L156.5 159.2 L156.1 159.7 L153.2 163.1 L150.3 166.6 L147.4 170.2 L144.5 173.8 L141.6 177.6 L139.1 180.8 L138.7 181.4 L135.8 185.2 L132.9 189.1 L130.0 193.1 L127.1 197.2 L124.2 201.4 L123.5 202.4 L121.3 205.6 L118.4 209.9 L115.5 214.3 L112.6 218.8 L109.7 223.5 L109.4 224.0 L106.7 228.5 L103.8 233.6 L100.9 238.9 L98.0 244.3 L97.4 245.6 L95.1 249.9 L92.2 255.7 L89.3 261.9 L87.0 267.2ZM309.0 267.2 L309.9 267.2 L312.8 267.2 L315.7 267.2 L315.7 264.3 L312.8 265.5 L309.9 266.8 L309.0 267.2Z" fill="#d8c01a"/>
<path d="M91.3 267.2 L92.2 267.2 L95.1 267.2 L96.1 267.2 L98.0 263.4 L100.9 258.2 L103.8 253.2 L106.7 248.3 L108.4 245.6 L109.7 243.5 L112.6 238.8 L115.5 234.2 L118.4 229.7 L121.3 225.3 L122.1 224.0 L124.2 221.2 L127.1 217.2 L130.0 213.3 L132.9 209.5 L135.8 205.7 L138.4 202.4 L138.7 202.0 L141.6 198.4 L144.5 194.8 L147.4 191.3 L150.3 187.9 L153.2 184.5 L156.1 181.2 L156.4 180.8 L159.0 177.9 L161.9 174.6 L164.8 171.4 L167.7 168.3 L170.6 165.2 L173.5 162.1 L176.3 159.2 L176.4 159.1 L179.3 156.0 L182.2 152.9 L185.1 149.9 L188.0 146.9 L190.9 144.0 L193.8 141.0 L196.7 138.1 L197.2 137.7 L199.6 135.3 L202.5 132.5 L205.4 129.8 L208.3 127.1 L211.2 124.4 L214.1 121.8 L217.0 119.2 L219.9 116.6 L220.5 116.1 L222.8 114.0 L225.7 111.5 L228.6 109.0 L231.5 106.6 L234.4 104.2 L237.3 101.8 L240.2 99.4 L243.1 97.0 L246.0 94.7 L246.3 94.5 L249.0 92.2 L251.9 89.8 L254.8 87.4 L257.7 85.0 L260.6 82.6 L263.5 80.3 L266.4 78.0 L269.3 75.6 L272.2 73.4 L272.8 72.9 L275.1 71.1 L278.0 69.0 L280.9 66.8 L283.8 64.7 L286.7 62.6 L289.6 60.5 L292.5 58.4 L295.4 56.4 L298.3 54.3 L301.2 52.3 L302.6 51.3 L304.1 50.2 L307.0 48.1 L309.9 46.1 L312.8 44.0 L315.7 42.0 L315.7 29.7 L315.7 27.7 L312.9 29.7 L312.8 29.8 L309.9 31.8 L307.0 33.9 L304.1 36.1 L301.2 38.2 L298.3 40.3 L295.4 42.5 L292.5 44.7 L289.6 46.9 L286.7 49.1 L283.9 51.3 L283.8 51.4 L280.9 53.5 L278.0 55.7 L275.1 57.9 L272.2 60.1 L269.3 62.4 L266.4 64.6 L263.5 66.9 L260.6 69.2 L257.7 71.6 L256.0 72.9 L254.8 73.9 L251.9 76.4 L249.0 78.9 L246.0 81.4 L243.1 83.9 L240.2 86.4 L237.3 89.0 L234.4 91.6 L231.5 94.3 L231.3 94.5 L228.6 96.8 L225.7 99.3 L222.8 101.8 L219.9 104.4 L217.0 107.0 L214.1 109.6 L211.2 112.3 L208.3 115.0 L207.2 116.1 L205.4 117.8 L202.5 120.6 L199.6 123.4 L196.7 126.2 L193.8 129.1 L190.9 132.0 L188.0 135.0 L185.5 137.7 L185.1 138.0 L182.2 141.1 L179.3 144.3 L176.4 147.4 L173.5 150.6 L170.6 153.9 L167.7 157.2 L166.0 159.2 L164.8 160.5 L161.9 163.8 L159.0 167.1 L156.1 170.4 L153.2 173.8 L150.3 177.3 L147.4 180.8 L147.4 180.8 L144.5 184.4 L141.6 188.0 L138.7 191.7 L135.8 195.5 L132.9 199.4 L130.6 202.4 L130.0 203.3 L127.1 207.3 L124.2 211.3 L121.3 215.4 L118.4 219.7 L115.5 224.0 L115.5 224.0 L112.6 228.7 L109.7 233.5 L106.7 238.4 L103.8 243.5 L102.7 245.6 L100.9 248.6 L98.0 253.9 L95.1 259.4 L92.2 265.3 L91.3 267.2ZM297.2 267.2 L298.3 267.2 L301.2 267.2 L304.1 267.2 L307.0 267.2 L309.0 267.2 L309.9 266.8 L312.8 265.5 L315.7 264.3 L315.7 259.3 L312.8 260.4 L309.9 261.6 L307.0 262.8 L304.1 264.0 L301.2 265.3 L298.3 266.7 L297.2 267.2Z" fill="#eec012"/>
<path d="M96.1 267.2 L98.0 267.2 L100.9 267.2 L101.3 267.2 L103.8 262.8 L106.7 258.0 L109.7 253.4 L112.6 248.9 L114.7 245.6 L115.5 244.4 L118.4 240.1 L121.3 235.8 L124.2 231.6 L127.1 227.4 L129.4 224.0 L130.0 223.3 L132.9 219.6 L135.8 216.0 L138.7 212.4 L141.6 208.8 L144.5 205.3 L146.9 202.4 L147.4 201.9 L150.3 198.5 L153.2 195.2 L156.1 192.0 L159.0 188.7 L161.9 185.6 L164.8 182.4 L166.2 180.8 L167.7 179.3 L170.6 176.3 L173.5 173.3 L176.4 170.4 L179.3 167.4 L182.2 164.6 L185.1 161.7 L187.6 159.2 L188.0 158.8 L190.9 155.9 L193.8 153.1 L196.7 150.3 L199.6 147.5 L202.5 144.7 L205.4 142.0 L208.3 139.3 L210.0 137.7 L211.2 136.6 L214.1 134.0 L217.0 131.5 L219.9 128.9 L222.8 126.4 L225.7 123.9 L228.6 121.5 L231.5 119.0 L234.4 116.5 L235.0 116.1 L237.3 114.2 L240.2 111.9 L243.1 109.6 L246.0 107.3 L249.0 105.0 L251.9 102.8 L254.8 100.5 L257.7 98.3 L260.6 96.1 L262.7 94.5 L263.5 93.9 L266.4 91.6 L269.3 89.3 L272.2 87.1 L275.1 84.9 L278.0 82.7 L280.9 80.5 L283.8 78.3 L286.7 76.1 L289.6 74.0 L291.1 72.9 L292.5 71.9 L295.4 69.9 L298.3 67.9 L301.2 65.9 L304.1 63.9 L307.0 62.0 L309.9 60.0 L312.8 58.1 L315.7 56.2 L315.7 51.3 L315.7 42.0 L312.8 44.0 L309.9 46.1 L307.0 48.1 L304.1 50.2 L302.6 51.3 L301.2 52.3 L298.3 54.3 L295.4 56.4 L292.5 58.4 L289.6 60.5 L286.7 62.6 L283.8 64.7 L280.9 66.8 L278.0 69.0 L275.1 71.1 L272.8 72.9 L272.2 73.4 L269.3 75.6 L266.4 78.0 L263.5 80.3 L260.6 82.6 L257.7 85.0 L254.8 87.4 L251.9 89.8 L249.0 92.2 L246.3 94.5 L246.0 94.7 L243.1 97.0 L240.2 99.4 L237.3 101.8 L234.4 104.2 L231.5 106.6 L228.6 109.0 L225.7 111.5 L222.8 114.0 L220.5 116.1 L219.9 116.6 L217.0 119.2 L214.1 121.8 L211.2 124.4 L208.3 127.1 L205.4 129.8 L202.5 132.5 L199.6 135.3 L197.2 137.7 L196.7 138.1 L193.8 141.0 L190.9 144.0 L188.0 146.9 L185.1 149.9 L182.2 152.9 L179.3 156.0 L176.4 159.1 L176.3 159.2 L173.5 162.1 L170.6 165.2 L167.7 168.3 L164.8 171.4 L161.9 174.6 L159.0 177.9 L156.4 180.8 L156.1 181.2 L153.2 184.5 L150.3 187.9 L147.4 191.3 L144.5 194.8 L141.6 198.4 L138.7 202.0 L138.4 202.4 L135.8 205.7 L132.9 209.5 L130.0 213.3 L127.1 217.2 L124.2 221.2 L122.1 224.0 L121.3 225.3 L118.4 229.7 L115.5 234.2 L112.6 238.8 L109.7 243.5 L108.4 245.6 L106.7 248.3 L103.8 253.2 L100.9 258.2 L98.0 263.4 L96.1 267.2ZM285.2 267.2 L286.7 267.2 L289.6 267.2 L292.5 267.2 L295.4 267.2 L297.2 267.2 L298.3 266.7 L301.2 265.3 L304.1 264.0 L307.0 262.8 L309.9 261.6 L312.8 260.4 L315.7 259.3 L315.7 254.2 L312.8 255.2 L309.9 256.3 L307.0 257.4 L304.1 258.6 L301.2 259.8 L298.3 261.0 L295.4 262.3 L292.5 263.6 L289.6 265.0 L286.7 266.4 L285.2 267.2Z" fill="#f8bc18"/>
<path d="M101.3 267.2 L103.8 267.2 L106.7 267.2 L107.1 267.2 L109.7 263.2 L112.6 258.8 L115.5 254.6 L118.4 250.4 L121.3 246.3 L121.7 245.6 L124.2 242.2 L127.1 238.2 L130.0 234.3 L132.9 230.4 L135.8 226.5 L137.6 224.0 L138.7 222.7 L141.6 219.3 L144.5 216.0 L147.4 212.6 L150.3 209.3 L153.2 206.1 L156.1 202.8 L156.4 202.4 L159.0 199.7 L161.9 196.6 L164.8 193.6 L167.7 190.6 L170.6 187.6 L173.5 184.6 L176.4 181.7 L177.2 180.8 L179.3 178.8 L182.2 176.0 L185.1 173.3 L188.0 170.6 L190.9 167.9 L193.8 165.2 L196.7 162.5 L199.6 159.8 L200.2 159.2 L202.5 157.1 L205.4 154.5 L208.3 151.8 L211.2 149.2 L214.1 146.7 L217.0 144.1 L219.9 141.5 L222.8 138.9 L224.3 137.7 L225.7 136.5 L228.6 134.1 L231.5 131.7 L234.4 129.4 L237.3 127.1 L240.2 124.7 L243.1 122.4 L246.0 120.1 L249.0 117.8 L251.1 116.1 L251.9 115.5 L254.8 113.4 L257.7 111.2 L260.6 109.1 L263.5 107.0 L266.4 104.9 L269.3 102.8 L272.2 100.7 L275.1 98.6 L278.0 96.5 L280.9 94.5 L280.9 94.5 L283.8 92.4 L286.7 90.3 L289.6 88.2 L292.5 86.1 L295.4 84.1 L298.3 82.0 L301.2 80.0 L304.1 78.0 L307.0 75.9 L309.9 73.9 L311.4 72.9 L312.8 71.9 L315.7 70.1 L315.7 56.2 L312.8 58.1 L309.9 60.0 L307.0 62.0 L304.1 63.9 L301.2 65.9 L298.3 67.9 L295.4 69.9 L292.5 71.9 L291.1 72.9 L289.6 74.0 L286.7 76.1 L283.8 78.3 L280.9 80.5 L278.0 82.7 L275.1 84.9 L272.2 87.1 L269.3 89.3 L266.4 91.6 L263.5 93.9 L262.7 94.5 L260.6 96.1 L257.7 98.3 L254.8 100.5 L251.9 102.8 L249.0 105.0 L246.0 107.3 L243.1 109.6 L240.2 111.9 L237.3 114.2 L235.0 116.1 L234.4 116.5 L231.5 119.0 L228.6 121.5 L225.7 123.9 L222.8 126.4 L219.9 128.9 L217.0 131.5 L214.1 134.0 L211.2 136.6 L210.0 137.7 L208.3 139.3 L205.4 142.0 L202.5 144.7 L199.6 147.5 L196.7 150.3 L193.8 153.1 L190.9 155.9 L188.0 158.8 L187.6 159.2 L185.1 161.7 L182.2 164.6 L179.3 167.4 L176.4 170.4 L173.5 173.3 L170.6 176.3 L167.7 179.3 L166.2 180.8 L164.8 182.4 L161.9 185.6 L159.0 188.7 L156.1 192.0 L153.2 195.2 L150.3 198.5 L147.4 201.9 L146.9 202.4 L144.5 205.3 L141.6 208.8 L138.7 212.4 L135.8 216.0 L132.9 219.6 L130.0 223.3 L129.4 224.0 L127.1 227.4 L124.2 231.6 L121.3 235.8 L118.4 240.1 L115.5 244.4 L114.7 245.6 L112.6 248.9 L109.7 253.4 L106.7 258.0 L103.8 262.8 L101.3 267.2ZM272.8 267.2 L275.1 267.2 L278.0 267.2 L280.9 267.2 L283.8 267.2 L285.2 267.2 L286.7 266.4 L289.6 265.0 L292.5 263.6 L295.4 262.3 L298.3 261.0 L301.2 259.8 L304.1 258.6 L307.0 257.4 L309.9 256.3 L312.8 255.2 L315.7 254.2 L315.7 249.1 L312.8 250.1 L309.9 251.1 L307.0 252.1 L304.1 253.1 L301.2 254.2 L298.3 255.3 L295.4 256.5 L292.5 257.6 L289.6 258.9 L286.7 260.2 L283.8 261.5 L280.9 262.9 L278.0 264.4 L275.1 265.9 L272.8 267.2Z" fill="#fcb822"/>
<path d="M107.1 267.2 L109.7 267.2 L112.6 267.2 L113.7 267.2 L115.5 264.7 L118.4 260.7 L121.3 256.8 L124.2 253.0 L127.1 249.2 L129.8 245.6 L130.0 245.4 L132.9 241.7 L135.8 238.0 L138.7 234.4 L141.6 230.8 L144.5 227.1 L146.9 224.0 L147.4 223.5 L150.3 220.3 L153.2 217.3 L156.1 214.2 L159.0 211.1 L161.9 208.1 L164.8 205.0 L167.2 202.4 L167.7 201.9 L170.6 199.1 L173.5 196.3 L176.4 193.6 L179.3 190.8 L182.2 188.0 L185.1 185.2 L188.0 182.5 L189.7 180.8 L190.9 179.7 L193.8 177.2 L196.7 174.7 L199.6 172.2 L202.5 169.6 L205.4 167.1 L208.3 164.6 L211.2 162.1 L214.1 159.5 L214.5 159.2 L217.0 157.1 L219.9 154.7 L222.8 152.3 L225.7 149.9 L228.6 147.5 L231.5 145.1 L234.4 142.7 L237.3 140.3 L240.2 137.8 L240.5 137.7 L243.1 135.6 L246.0 133.4 L249.0 131.3 L251.9 129.1 L254.8 127.0 L257.7 124.8 L260.6 122.6 L263.5 120.5 L266.4 118.3 L269.3 116.1 L269.3 116.1 L272.2 114.1 L275.1 112.2 L278.0 110.2 L280.9 108.3 L283.8 106.3 L286.7 104.4 L289.6 102.4 L292.5 100.5 L295.4 98.5 L298.3 96.6 L301.2 94.6 L301.4 94.5 L304.1 92.7 L307.0 90.8 L309.9 88.9 L312.8 86.9 L315.7 85.0 L315.7 72.9 L315.7 70.1 L312.8 71.9 L311.4 72.9 L309.9 73.9 L307.0 75.9 L304.1 78.0 L301.2 80.0 L298.3 82.0 L295.4 84.1 L292.5 86.1 L289.6 88.2 L286.7 90.3 L283.8 92.4 L280.9 94.5 L280.9 94.5 L278.0 96.5 L275.1 98.6 L272.2 100.7 L269.3 102.8 L266.4 104.9 L263.5 107.0 L260.6 109.1 L257.7 111.2 L254.8 113.4 L251.9 115.5 L251.1 116.1 L249.0 117.8 L246.0 120.1 L243.1 122.4 L240.2 124.7 L237.3 127.1 L234.4 129.4 L231.5 131.7 L228.6 134.1 L225.7 136.5 L224.3 137.7 L222.8 138.9 L219.9 141.5 L217.0 144.1 L214.1 146.7 L211.2 149.2 L208.3 151.8 L205.4 154.5 L202.5 157.1 L200.2 159.2 L199.6 159.8 L196.7 162.5 L193.8 165.2 L190.9 167.9 L188.0 170.6 L185.1 173.3 L182.2 176.0 L179.3 178.8 L177.2 180.8 L176.4 181.7 L173.5 184.6 L170.6 187.6 L167.7 190.6 L164.8 193.6 L161.9 196.6 L159.0 199.7 L156.4 202.4 L156.1 202.8 L153.2 206.1 L150.3 209.3 L147.4 212.6 L144.5 216.0 L141.6 219.3 L138.7 222.7 L137.6 224.0 L135.8 226.5 L132.9 230.4 L130.0 234.3 L127.1 238.2 L124.2 242.2 L121.7 245.6 L121.3 246.3 L118.4 250.4 L115.5 254.6 L112.6 258.8 L109.7 263.2 L107.1 267.2ZM259.9 267.2 L260.6 267.2 L263.5 267.2 L266.4 267.2 L269.3 267.2 L272.2 267.2 L272.8 267.2 L275.1 265.9 L278.0 264.4 L280.9 262.9 L283.8 261.5 L286.7 260.2 L289.6 258.9 L292.5 257.6 L295.4 256.5 L298.3 255.3 L301.2 254.2 L304.1 253.1 L307.0 252.1 L309.9 251.1 L312.8 250.1 L315.7 249.1 L315.7 245.6 L315.7 242.9 L312.8 244.4 L310.6 245.6 L309.9 245.8 L307.0 246.7 L304.1 247.7 L301.2 248.6 L298.3 249.6 L295.4 250.6 L292.5 251.7 L289.6 252.8 L286.7 253.9 L283.8 255.1 L280.9 256.3 L278.0 257.6 L275.1 259.0 L272.2 260.4 L269.3 261.8 L266.4 263.4 L263.5 265.0 L260.6 266.8 L259.9 267.2Z" fill="#fcb42a"/>
<path d="M113.7 267.2 L115.5 267.2 L118.4 267.2 L121.3 267.2 L121.4 267.2 L124.2 263.8 L127.1 260.3 L130.0 256.8 L132.9 253.4 L135.8 249.9 L138.7 246.3 L139.3 245.6 L141.6 243.0 L144.5 239.7 L147.4 236.3 L150.3 233.0 L153.2 229.6 L156.1 226.1 L157.8 224.0 L159.0 222.8 L161.9 220.0 L164.8 217.3 L167.7 214.5 L170.6 211.7 L173.5 208.8 L176.4 205.9 L179.3 203.0 L179.9 202.4 L182.2 200.4 L185.1 197.9 L188.0 195.3 L190.9 192.8 L193.8 190.3 L196.7 187.7 L199.6 185.1 L202.5 182.5 L204.3 180.8 L205.4 179.9 L208.3 177.6 L211.2 175.3 L214.1 173.0 L217.0 170.7 L219.9 168.4 L222.8 166.1 L225.7 163.7 L228.6 161.3 L231.1 159.2 L231.5 158.9 L234.4 156.7 L237.3 154.6 L240.2 152.4 L243.1 150.2 L246.0 147.9 L249.0 145.7 L251.9 143.5 L254.8 141.2 L257.7 139.0 L259.3 137.7 L260.6 136.8 L263.5 134.8 L266.4 132.8 L269.3 130.8 L272.2 128.9 L275.1 126.9 L278.0 124.9 L280.9 122.9 L283.8 120.8 L286.7 118.8 L289.6 116.7 L290.5 116.1 L292.5 114.9 L295.4 113.1 L298.3 111.3 L301.2 109.5 L304.1 107.7 L307.0 105.9 L309.9 104.1 L312.8 102.3 L315.7 100.5 L315.7 94.5 L315.7 85.0 L312.8 86.9 L309.9 88.9 L307.0 90.8 L304.1 92.7 L301.4 94.5 L301.2 94.6 L298.3 96.6 L295.4 98.5 L292.5 100.5 L289.6 102.4 L286.7 104.4 L283.8 106.3 L280.9 108.3 L278.0 110.2 L275.1 112.2 L272.2 114.1 L269.3 116.1 L269.3 116.1 L266.4 118.3 L263.5 120.5 L260.6 122.6 L257.7 124.8 L254.8 127.0 L251.9 129.1 L249.0 131.3 L246.0 133.4 L243.1 135.6 L240.5 137.7 L240.2 137.8 L237.3 140.3 L234.4 142.7 L231.5 145.1 L228.6 147.5 L225.7 149.9 L222.8 152.3 L219.9 154.7 L217.0 157.1 L214.5 159.2 L214.1 159.5 L211.2 162.1 L208.3 164.6 L205.4 167.1 L202.5 169.6 L199.6 172.2 L196.7 174.7 L193.8 177.2 L190.9 179.7 L189.7 180.8 L188.0 182.5 L185.1 185.2 L182.2 188.0 L179.3 190.8 L176.4 193.6 L173.5 196.3 L170.6 199.1 L167.7 201.9 L167.2 202.4 L164.8 205.0 L161.9 208.1 L159.0 211.1 L156.1 214.2 L153.2 217.3 L150.3 220.3 L147.4 223.5 L146.9 224.0 L144.5 227.1 L141.6 230.8 L138.7 234.4 L135.8 238.0 L132.9 241.7 L130.0 245.4 L129.8 245.6 L127.1 249.2 L124.2 253.0 L121.3 256.8 L118.4 260.7 L115.5 264.7 L113.7 267.2ZM246.1 267.2 L249.0 267.2 L251.9 267.2 L254.8 267.2 L257.7 267.2 L259.9 267.2 L260.6 266.8 L263.5 265.0 L266.4 263.4 L269.3 261.8 L272.2 260.4 L275.1 259.0 L278.0 257.6 L280.9 256.3 L283.8 255.1 L286.7 253.9 L289.6 252.8 L292.5 251.7 L295.4 250.6 L298.3 249.6 L301.2 248.6 L304.1 247.7 L307.0 246.7 L309.9 245.8 L310.6 245.6 L312.8 244.4 L315.7 242.9 L315.7 233.9 L312.8 235.2 L309.9 236.5 L307.0 237.9 L304.1 239.4 L301.2 240.9 L298.3 242.5 L295.4 244.1 L292.9 245.6 L292.5 245.7 L289.6 246.7 L286.7 247.7 L283.8 248.7 L280.9 249.7 L278.0 250.8 L275.1 252.0 L272.2 253.1 L269.3 254.4 L266.4 255.7 L263.5 257.0 L260.6 258.5 L257.7 260.0 L254.8 261.6 L251.9 263.4 L249.0 265.2 L246.1 267.2Z" fill="#f89a30"/>
<path d="M121.4 267.2 L124.2 267.2 L127.1 267.2 L130.0 267.2 L131.1 267.2 L132.9 265.3 L135.8 262.2 L138.7 259.2 L141.6 256.2 L144.5 253.1 L147.4 249.9 L150.3 246.6 L151.1 245.6 L153.2 243.5 L156.1 240.6 L159.0 237.6 L161.9 234.6 L164.8 231.5 L167.7 228.2 L170.6 224.8 L171.3 224.0 L173.5 222.1 L176.4 219.7 L179.3 217.2 L182.2 214.7 L185.1 212.2 L188.0 209.6 L190.9 206.9 L193.8 204.1 L195.6 202.4 L196.7 201.5 L199.6 199.3 L202.5 197.1 L205.4 194.8 L208.3 192.5 L211.2 190.2 L214.1 187.8 L217.0 185.4 L219.9 182.9 L222.3 180.8 L222.8 180.5 L225.7 178.4 L228.6 176.4 L231.5 174.3 L234.4 172.3 L237.3 170.2 L240.2 168.0 L243.1 165.9 L246.0 163.7 L249.0 161.4 L251.6 159.2 L251.9 159.1 L254.8 157.1 L257.7 155.2 L260.6 153.2 L263.5 151.2 L266.4 149.2 L269.3 147.2 L272.2 145.1 L275.1 143.0 L278.0 140.9 L280.9 138.7 L282.3 137.7 L283.8 136.8 L286.7 135.0 L289.6 133.2 L292.5 131.4 L295.4 129.6 L298.3 127.8 L301.2 126.0 L304.1 124.1 L307.0 122.3 L309.9 120.4 L312.8 118.4 L315.7 116.5 L315.7 116.1 L315.7 100.5 L312.8 102.3 L309.9 104.1 L307.0 105.9 L304.1 107.7 L301.2 109.5 L298.3 111.3 L295.4 113.1 L292.5 114.9 L290.5 116.1 L289.6 116.7 L286.7 118.8 L283.8 120.8 L280.9 122.9 L278.0 124.9 L275.1 126.9 L272.2 128.9 L269.3 130.8 L266.4 132.8 L263.5 134.8 L260.6 136.8 L259.3 137.7 L257.7 139.0 L254.8 141.2 L251.9 143.5 L249.0 145.7 L246.0 147.9 L243.1 150.2 L240.2 152.4 L237.3 154.6 L234.4 156.7 L231.5 158.9 L231.1 159.2 L228.6 161.3 L225.7 163.7 L222.8 166.1 L219.9 168.4 L217.0 170.7 L214.1 173.0 L211.2 175.3 L208.3 177.6 L205.4 179.9 L204.3 180.8 L202.5 182.5 L199.6 185.1 L196.7 187.7 L193.8 190.3 L190.9 192.8 L188.0 195.3 L185.1 197.9 L182.2 200.4 L179.9 202.4 L179.3 203.0 L176.4 205.9 L173.5 208.8 L170.6 211.7 L167.7 214.5 L164.8 217.3 L161.9 220.0 L159.0 222.8 L157.8 224.0 L156.1 226.1 L153.2 229.6 L150.3 233.0 L147.4 236.3 L144.5 239.7 L141.6 243.0 L139.3 245.6 L138.7 246.3 L135.8 249.9 L132.9 253.4 L130.0 256.8 L127.1 260.3 L124.2 263.8 L121.4 267.2ZM230.6 267.2 L231.5 267.2 L234.4 267.2 L237.3 267.2 L240.2 267.2 L243.1 267.2 L246.0 267.2 L246.1 267.2 L249.0 265.2 L251.9 263.4 L254.8 261.6 L257.7 260.0 L260.6 258.5 L263.5 257.0 L266.4 255.7 L269.3 254.4 L272.2 253.1 L275.1 252.0 L278.0 250.8 L280.9 249.7 L283.8 248.7 L286.7 247.7 L289.6 246.7 L292.5 245.7 L292.9 245.6 L295.4 244.1 L298.3 242.5 L301.2 240.9 L304.1 239.4 L307.0 237.9 L309.9 236.5 L312.8 235.2 L315.7 233.9 L315.7 224.9 L312.8 226.0 L309.9 227.1 L307.0 228.2 L304.1 229.4 L301.2 230.6 L298.3 231.9 L295.4 233.2 L292.5 234.6 L289.6 236.0 L286.7 237.5 L283.8 239.0 L280.9 240.7 L278.0 242.5 L275.1 244.3 L273.1 245.6 L272.2 245.9 L269.3 246.9 L266.4 248.0 L263.5 249.1 L260.6 250.2 L257.7 251.4 L254.8 252.6 L251.9 254.0 L249.0 255.4 L246.0 256.9 L243.1 258.5 L240.2 260.2 L237.3 262.1 L234.4 264.2 L231.5 266.4 L230.6 267.2Z" fill="#f07230"/>
<path d="M131.1 267.2 L132.9 267.2 L135.8 267.2 L138.7 267.2 L141.6 267.2 L144.5 267.2 L144.5 267.2 L147.4 264.9 L150.3 262.5 L153.2 260.0 L156.1 257.5 L159.0 254.9 L161.9 252.2 L164.8 249.2 L167.7 245.9 L167.9 245.6 L170.6 243.4 L173.5 241.0 L176.4 238.5 L179.3 235.8 L182.2 233.0 L185.1 230.0 L188.0 226.7 L190.1 224.0 L190.9 223.4 L193.8 221.4 L196.7 219.4 L199.6 217.3 L202.5 215.1 L205.4 212.9 L208.3 210.6 L211.2 208.1 L214.1 205.5 L217.0 202.6 L217.2 202.4 L219.9 200.7 L222.8 198.8 L225.7 196.9 L228.6 195.0 L231.5 193.0 L234.4 191.0 L237.3 188.8 L240.2 186.6 L243.1 184.2 L246.0 181.7 L247.0 180.8 L249.0 179.7 L251.9 178.0 L254.8 176.2 L257.7 174.5 L260.6 172.7 L263.5 170.8 L266.4 168.9 L269.3 166.9 L272.2 164.9 L275.1 162.7 L278.0 160.4 L279.4 159.2 L280.9 158.4 L283.8 156.8 L286.7 155.1 L289.6 153.4 L292.5 151.6 L295.4 149.9 L298.3 148.0 L301.2 146.2 L304.1 144.2 L307.0 142.2 L309.9 140.2 L312.8 138.0 L313.2 137.7 L315.7 136.4 L315.7 116.5 L312.8 118.4 L309.9 120.4 L307.0 122.3 L304.1 124.1 L301.2 126.0 L298.3 127.8 L295.4 129.6 L292.5 131.4 L289.6 133.2 L286.7 135.0 L283.8 136.8 L282.3 137.7 L280.9 138.7 L278.0 140.9 L275.1 143.0 L272.2 145.1 L269.3 147.2 L266.4 149.2 L263.5 151.2 L260.6 153.2 L257.7 155.2 L254.8 157.1 L251.9 159.1 L251.6 159.2 L249.0 161.4 L246.0 163.7 L243.1 165.9 L240.2 168.0 L237.3 170.2 L234.4 172.3 L231.5 174.3 L228.6 176.4 L225.7 178.4 L222.8 180.5 L222.3 180.8 L219.9 182.9 L217.0 185.4 L214.1 187.8 L211.2 190.2 L208.3 192.5 L205.4 194.8 L202.5 197.1 L199.6 199.3 L196.7 201.5 L195.6 202.4 L193.8 204.1 L190.9 206.9 L188.0 209.6 L185.1 212.2 L182.2 214.7 L179.3 217.2 L176.4 219.7 L173.5 222.1 L171.3 224.0 L170.6 224.8 L167.7 228.2 L164.8 231.5 L161.9 234.6 L159.0 237.6 L156.1 240.6 L153.2 243.5 L151.1 245.6 L150.3 246.6 L147.4 249.9 L144.5 253.1 L141.6 256.2 L138.7 259.2 L135.8 262.2 L132.9 265.3 L131.1 267.2ZM211.6 267.2 L214.1 267.2 L217.0 267.2 L219.9 267.2 L222.8 267.2 L225.7 267.2 L228.6 267.2 L230.6 267.2 L231.5 266.4 L234.4 264.2 L237.3 262.1 L240.2 260.2 L243.1 258.5 L246.0 256.9 L249.0 255.4 L251.9 254.0 L254.8 252.6 L257.7 251.4 L260.6 250.2 L263.5 249.1 L266.4 248.0 L269.3 246.9 L272.2 245.9 L273.1 245.6 L275.1 244.3 L278.0 242.5 L280.9 240.7 L283.8 239.0 L286.7 237.5 L289.6 236.0 L292.5 234.6 L295.4 233.2 L298.3 231.9 L301.2 230.6 L304.1 229.4 L307.0 228.2 L309.9 227.1 L312.8 226.0 L315.7 224.9 L315.7 224.0 L315.7 210.0 L312.8 211.2 L309.9 212.5 L307.0 213.9 L304.1 215.4 L301.2 216.9 L298.3 218.6 L295.4 220.4 L292.5 222.4 L290.3 224.0 L289.6 224.3 L286.7 225.3 L283.8 226.4 L280.9 227.6 L278.0 228.7 L275.1 230.0 L272.2 231.3 L269.3 232.6 L266.4 234.1 L263.5 235.6 L260.6 237.2 L257.7 239.0 L254.8 240.9 L251.9 243.0 L249.0 245.4 L248.6 245.6 L246.0 246.5 L243.1 247.6 L240.2 248.7 L237.3 249.9 L234.4 251.1 L231.5 252.5 L228.6 253.9 L225.7 255.6 L222.8 257.3 L219.9 259.4 L217.0 261.7 L214.1 264.4 L211.6 267.2Z" fill="#e04430"/>
<path d="M144.5 267.2 L147.4 267.2 L150.3 267.2 L153.2 267.2 L156.1 267.2 L159.0 267.2 L161.9 267.2 L164.8 267.2 L167.7 267.2 L170.6 267.2 L173.5 267.2 L176.4 267.2 L179.3 267.2 L182.2 267.2 L185.1 267.2 L188.0 267.2 L190.9 267.2 L193.8 267.2 L196.7 267.2 L199.6 267.2 L202.5 267.2 L205.4 267.2 L208.3 267.2 L211.2 267.2 L211.6 267.2 L214.1 264.4 L217.0 261.7 L219.9 259.4 L222.8 257.3 L225.7 255.6 L228.6 253.9 L231.5 252.5 L234.4 251.1 L237.3 249.9 L240.2 248.7 L243.1 247.6 L246.0 246.5 L248.6 245.6 L249.0 245.4 L251.9 243.0 L254.8 240.9 L257.7 239.0 L260.6 237.2 L263.5 235.6 L266.4 234.1 L269.3 232.6 L272.2 231.3 L275.1 230.0 L278.0 228.7 L280.9 227.6 L283.8 226.4 L286.7 225.3 L289.6 224.3 L290.3 224.0 L292.5 222.4 L295.4 220.4 L298.3 218.6 L301.2 216.9 L304.1 215.4 L307.0 213.9 L309.9 212.5 L312.8 211.2 L315.7 210.0 L315.7 202.4 L315.7 180.8 L315.7 159.2 L315.7 137.7 L315.7 136.4 L313.2 137.7 L312.8 138.0 L309.9 140.2 L307.0 142.2 L304.1 144.2 L301.2 146.2 L298.3 148.0 L295.4 149.9 L292.5 151.6 L289.6 153.4 L286.7 155.1 L283.8 156.8 L280.9 158.4 L279.4 159.2 L278.0 160.4 L275.1 162.7 L272.2 164.9 L269.3 166.9 L266.4 168.9 L263.5 170.8 L260.6 172.7 L257.7 174.5 L254.8 176.2 L251.9 178.0 L249.0 179.7 L247.0 180.8 L246.0 181.7 L243.1 184.2 L240.2 186.6 L237.3 188.8 L234.4 191.0 L231.5 193.0 L228.6 195.0 L225.7 196.9 L222.8 198.8 L219.9 200.7 L217.2 202.4 L217.0 202.6 L214.1 205.5 L211.2 208.1 L208.3 210.6 L205.4 212.9 L202.5 215.1 L199.6 217.3 L196.7 219.4 L193.8 221.4 L190.9 223.4 L190.1 224.0 L188.0 226.7 L185.1 230.0 L182.2 233.0 L179.3 235.8 L176.4 238.5 L173.5 241.0 L170.6 243.4 L167.9 245.6 L167.7 245.9 L164.8 249.2 L161.9 252.2 L159.0 254.9 L156.1 257.5 L153.2 260.0 L150.3 262.5 L147.4 264.9 L144.5 267.2Z" fill="#c00a2a"/>
<path d="M49.0 8.1 L48.7 10.3 L46.6 29.7 L45.8 37.0 L44.4 51.3 L42.9 66.9 L42.4 72.9 L40.5 94.5 L40.0 100.5M58.2 8.1 L57.4 12.8 L54.9 29.7 L54.5 32.0 L51.9 51.3 L51.6 53.1 L49.0 72.9 L48.7 75.1 L46.5 94.5 L45.8 99.7 L44.0 116.1 L42.9 125.8 L41.7 137.7 L40.0 156.1M67.6 8.1 L66.1 15.3 L63.4 29.7 L63.2 30.4 L60.3 46.3 L59.5 51.3 L57.4 62.9 L55.8 72.9 L54.5 80.8 L52.5 94.5 L51.6 100.1 L49.3 116.1 L48.7 120.3 L46.4 137.6 L45.8 142.5 L43.9 159.2 L42.9 167.0 L41.4 180.8 L40.0 193.9M77.3 8.1 L74.8 17.8 L72.1 29.7 L71.9 30.3 L69.0 43.0 L67.3 51.3 L66.1 56.5 L63.2 70.5 L62.8 72.9 L60.3 85.4 L58.7 94.5 L57.4 101.2 L54.8 116.1 L54.5 117.7 L51.6 135.3 L51.3 137.7 L48.7 154.6 L48.1 159.2 L45.8 175.0 L45.1 180.8 L42.9 197.6 L42.4 202.4 L40.0 223.2M87.3 8.1 L86.4 10.8 L83.5 20.5 L81.0 29.7 L80.6 31.0 L77.7 41.7 L75.4 51.3 L74.8 53.2 L71.9 64.4 L69.9 72.9 L69.0 76.6 L66.1 89.6 L65.1 94.5 L63.2 102.7 L60.4 116.1 L60.3 116.6 L57.4 131.0 L56.2 137.7 L54.5 146.7 L52.4 159.2 L51.6 163.7 L48.8 180.8 L48.7 181.6 L45.8 200.9 L45.6 202.4 L42.9 222.3 L42.7 224.0 L40.2 245.6 L40.0 248.5M97.5 8.1 L95.1 14.6 L92.2 23.2 L90.2 29.7 L89.3 32.3 L86.4 41.5 L83.6 51.3 L83.5 51.5 L80.6 60.9 L77.7 71.2 L77.3 72.9 L74.8 81.8 L71.9 93.4 L71.7 94.5 L69.0 104.4 L66.2 116.1 L66.1 116.5 L63.2 128.7 L61.3 137.7 L60.3 142.1 L57.4 156.4 L56.9 159.2 L54.5 170.8 L52.7 180.8 L51.6 186.5 L48.9 202.4 L48.7 203.7 L45.8 222.2 L45.6 224.0 L42.9 243.5 L42.7 245.6 L40.9 267.2M108.0 8.1 L106.7 11.1 L103.8 18.4 L100.9 26.1 L99.6 29.7 L98.0 33.9 L95.1 42.1 L92.2 50.8 L92.1 51.3 L89.3 59.0 L86.4 67.8 L84.9 72.9 L83.5 77.0 L80.6 86.6 L78.4 94.5 L77.7 96.7 L74.8 106.4 L72.2 116.1 L71.9 117.0 L69.0 127.6 L66.5 137.7 L66.1 139.3 L63.2 151.3 L61.5 159.2 L60.3 164.0 L57.4 177.2 L56.7 180.8 L54.5 191.0 L52.4 202.4 L51.6 206.2 L48.7 222.6 L48.5 224.0 L45.8 241.0 L45.2 245.6 L43.1 267.2M118.9 8.1 L118.4 9.2 L115.5 15.4 L112.6 22.0 L109.7 29.0 L109.4 29.7 L106.7 35.9 L103.8 43.2 L100.9 51.0 L100.8 51.3 L98.0 58.2 L95.1 65.8 L92.7 72.9 L92.2 74.0 L89.3 82.2 L86.4 91.1 L85.4 94.5 L83.5 99.7 L80.6 108.5 L78.3 116.1 L77.7 117.9 L74.8 127.3 L71.9 137.7 L71.9 137.7 L69.0 148.1 L66.2 159.2 L66.1 159.6 L63.2 170.5 L60.8 180.8 L60.3 182.7 L57.4 195.2 L55.9 202.4 L54.5 208.7 L51.6 223.5 L51.5 224.0 L48.7 239.6 L47.8 245.6 L45.8 262.1 L45.3 267.2M130.0 8.1 L130.0 8.2 L127.1 13.8 L124.2 19.6 L121.3 25.7 L119.4 29.7 L118.4 31.9 L115.5 38.2 L112.6 44.8 L109.9 51.3 L109.7 51.7 L106.7 58.2 L103.8 65.0 L100.9 72.2 L100.7 72.9 L98.0 79.5 L95.1 87.2 L92.6 94.5 L92.2 95.3 L89.3 102.7 L86.4 110.8 L84.7 116.1 L83.5 119.2 L80.6 127.6 L77.7 136.9 L77.5 137.7 L74.8 146.1 L71.9 156.2 L71.1 159.2 L69.0 166.1 L66.1 176.6 L65.0 180.8 L63.2 187.4 L60.3 199.1 L59.6 202.4 L57.4 211.1 L54.6 224.0 L54.5 224.6 L51.6 239.0 L50.5 245.6 L48.7 257.9 L47.6 267.2M141.6 8.1 L138.7 13.1 L135.8 18.2 L132.9 23.7 L130.0 29.3 L129.8 29.7 L127.1 34.9 L124.2 40.7 L121.3 46.7 L119.2 51.3 L118.4 52.9 L115.5 58.7 L112.6 64.8 L109.7 71.3 L109.0 72.9 L106.7 77.9 L103.8 84.7 L100.9 91.9 L100.0 94.5 L98.0 98.8 L95.1 105.8 L92.2 113.2 L91.2 116.1 L89.3 120.7 L86.4 128.4 L83.5 136.8 L83.3 137.7 L80.6 145.1 L77.7 154.0 L76.2 159.2 L74.8 163.1 L71.9 172.2 L69.4 180.8 L69.0 182.0 L66.1 191.8 L63.3 202.4 L63.2 202.8 L60.3 213.6 L57.9 224.0 L57.4 225.9 L54.5 239.0 L53.2 245.6 L51.6 255.3 L49.9 267.2M153.5 8.1 L153.2 8.6 L150.3 13.1 L147.4 17.8 L144.5 22.7 L141.6 27.7 L140.5 29.7 L138.7 32.8 L135.8 38.0 L132.9 43.3 L130.0 49.0 L128.8 51.3 L127.1 54.4 L124.2 59.7 L121.3 65.3 L118.4 71.2 L117.6 72.9 L115.5 77.2 L112.6 83.3 L109.7 89.7 L107.6 94.5 L106.7 96.3 L103.8 102.4 L100.9 108.9 L98.0 115.8 L98.0 116.1 L95.1 122.5 L92.2 129.6 L89.3 137.3 L89.2 137.7 L86.4 144.8 L83.5 152.8 L81.4 159.2 L80.6 161.2 L77.7 169.2 L74.8 177.9 L73.9 180.8 L71.9 186.8 L69.0 196.1 L67.2 202.4 L66.1 206.0 L63.2 216.2 L61.2 224.0 L60.3 227.4 L57.4 239.4 L56.1 245.6 L54.5 253.9 L52.4 267.2M165.8 8.1 L164.8 9.5 L161.9 13.7 L159.0 18.0 L156.1 22.5 L153.2 27.1 L151.6 29.7 L150.3 31.7 L147.4 36.4 L144.5 41.2 L141.6 46.2 L138.8 51.3 L138.7 51.4 L135.8 56.2 L132.9 61.1 L130.0 66.3 L127.1 71.7 L126.5 72.9 L124.2 77.1 L121.3 82.7 L118.4 88.6 L115.6 94.5 L115.5 94.7 L112.6 100.2 L109.7 106.0 L106.7 112.1 L105.0 116.1 L103.8 118.3 L100.9 124.6 L98.0 131.2 L95.4 137.7 L95.1 138.1 L92.2 145.0 L89.3 152.3 L86.8 159.2 L86.4 160.0 L83.5 167.2 L80.6 175.0 L78.6 180.8 L77.7 183.2 L74.8 191.3 L71.9 200.3 L71.3 202.4 L69.0 209.2 L66.1 218.8 L64.7 224.0 L63.2 229.0 L60.3 240.2 L59.0 245.6 L57.4 253.3 L54.9 267.2M178.6 8.1 L176.4 11.0 L173.5 14.8 L170.6 18.8 L167.7 22.9 L164.8 27.1 L163.1 29.7 L161.9 31.4 L159.0 35.7 L156.1 40.1 L153.2 44.6 L150.3 49.3 L149.1 51.3 L147.4 53.9 L144.5 58.3 L141.6 62.9 L138.7 67.7 L135.8 72.7 L135.7 72.9 L132.9 77.7 L130.0 82.8 L127.1 88.1 L124.2 93.7 L123.8 94.5 L121.3 98.8 L118.4 104.1 L115.5 109.6 L112.6 115.4 L112.2 116.1 L109.7 121.0 L106.7 126.8 L103.8 133.0 L101.8 137.7 L100.9 139.3 L98.0 145.7 L95.1 152.4 L92.4 159.2 L92.2 159.5 L89.3 166.1 L86.4 173.1 L83.5 180.7 L83.5 180.8 L80.6 188.0 L77.7 195.8 L75.5 202.4 L74.8 204.1 L71.9 212.4 L69.0 221.4 L68.3 224.0 L66.1 230.9 L63.2 241.3 L62.1 245.6 L60.3 253.2 L57.5 267.2M191.9 8.1 L190.9 9.3 L188.0 12.8 L185.1 16.4 L182.2 20.1 L179.3 23.9 L176.4 27.8 L175.0 29.7 L173.5 31.7 L170.6 35.6 L167.7 39.7 L164.8 43.9 L161.9 48.2 L159.8 51.3 L159.0 52.5 L156.1 56.5 L153.2 60.7 L150.3 65.0 L147.4 69.5 L145.3 72.9 L144.5 74.1 L141.6 78.7 L138.7 83.4 L135.8 88.4 L132.9 93.5 L132.3 94.5 L130.0 98.2 L127.1 103.0 L124.2 108.0 L121.3 113.3 L119.8 116.1 L118.4 118.5 L115.5 123.8 L112.6 129.3 L109.7 135.0 L108.4 137.7 L106.7 140.9 L103.8 146.8 L100.9 153.0 L98.2 159.2 L98.0 159.6 L95.1 165.6 L92.2 172.0 L89.3 178.9 L88.5 180.8 L86.4 185.6 L83.5 192.6 L80.6 200.2 L79.8 202.4 L77.7 207.7 L74.8 215.6 L72.0 224.0 L71.9 224.2 L69.0 233.0 L66.1 242.7 L65.3 245.6 L63.2 253.7 L60.3 266.4 L60.2 267.2M205.7 8.1 L205.4 8.4 L202.5 11.6 L199.6 14.9 L196.7 18.3 L193.8 21.8 L190.9 25.3 L188.0 29.0 L187.5 29.7 L185.1 32.6 L182.2 36.2 L179.3 40.0 L176.4 43.8 L173.5 47.8 L171.0 51.3 L170.6 51.8 L167.7 55.5 L164.8 59.4 L161.9 63.3 L159.0 67.4 L156.1 71.6 L155.2 72.9 L153.2 75.8 L150.3 80.1 L147.4 84.6 L144.5 89.2 L141.6 93.9 L141.2 94.5 L138.7 98.3 L135.8 102.7 L132.9 107.3 L130.0 112.1 L127.6 116.1 L127.1 117.0 L124.2 121.7 L121.3 126.7 L118.4 131.9 L115.5 137.4 L115.3 137.7 L112.6 142.7 L109.7 148.2 L106.7 154.0 L104.3 159.2 L103.8 160.1 L100.9 165.7 L98.0 171.6 L95.1 177.8 L93.8 180.8 L92.2 184.1 L89.3 190.5 L86.4 197.3 L84.4 202.4 L83.5 204.3 L80.6 211.3 L77.7 218.8 L75.9 224.0 L74.8 226.8 L71.9 235.2 L69.0 244.3 L68.6 245.6 L66.1 254.5 L63.2 266.1 L63.0 267.2M220.1 8.1 L219.9 8.3 L217.0 11.3 L214.1 14.4 L211.2 17.5 L208.3 20.7 L205.4 23.9 L202.5 27.2 L200.4 29.7 L199.6 30.6 L196.7 34.0 L193.8 37.4 L190.9 40.9 L188.0 44.5 L185.1 48.1 L182.7 51.3 L182.2 51.8 L179.3 55.3 L176.4 58.9 L173.5 62.5 L170.6 66.2 L167.7 70.1 L165.6 72.9 L164.8 74.0 L161.9 77.9 L159.0 82.0 L156.1 86.1 L153.2 90.4 L150.5 94.5 L150.3 94.8 L147.4 98.8 L144.5 102.9 L141.6 107.2 L138.7 111.6 L135.8 116.1 L135.8 116.1 L132.9 120.5 L130.0 125.1 L127.1 129.9 L124.2 134.8 L122.5 137.6 L121.3 139.8 L118.4 144.8 L115.5 150.0 L112.6 155.5 L110.6 159.2 L109.7 160.9 L106.7 166.2 L103.8 171.7 L100.9 177.4 L99.3 180.8 L98.0 183.3 L95.1 189.1 L92.2 195.3 L89.3 201.9 L89.1 202.4 L86.4 208.3 L83.5 215.0 L80.6 222.2 L79.9 224.0 L77.7 229.7 L74.8 237.6 L72.1 245.6 L71.9 246.2 L69.0 255.6 L66.1 266.3 L65.9 267.2M235.2 8.1 L234.4 8.8 L231.5 11.6 L228.6 14.5 L225.7 17.4 L222.8 20.3 L219.9 23.3 L217.0 26.4 L214.1 29.5 L214.0 29.7 L211.2 32.6 L208.3 35.8 L205.4 39.0 L202.5 42.3 L199.6 45.6 L196.7 49.1 L194.9 51.3 L193.8 52.5 L190.9 55.7 L188.0 59.0 L185.1 62.4 L182.2 65.8 L179.3 69.4 L176.5 72.9 L176.4 73.0 L173.5 76.7 L170.6 80.4 L167.7 84.2 L164.8 88.1 L161.9 92.1 L160.3 94.5 L159.0 96.1 L156.1 99.8 L153.2 103.7 L150.3 107.6 L147.4 111.7 L144.5 116.0 L144.4 116.1 L141.6 120.1 L138.7 124.3 L135.8 128.6 L132.9 133.2 L130.1 137.7 L130.0 137.9 L127.1 142.4 L124.2 147.2 L121.3 152.1 L118.4 157.2 L117.3 159.2 L115.5 162.2 L112.6 167.1 L109.7 172.2 L106.7 177.6 L105.1 180.8 L103.8 183.0 L100.9 188.5 L98.0 194.1 L95.1 200.2 L94.1 202.4 L92.2 206.1 L89.3 212.2 L86.4 218.7 L84.2 224.0 L83.5 225.5 L80.6 232.6 L77.7 240.2 L75.8 245.6 L74.8 248.3 L71.9 257.1 L69.0 266.9 L69.0 267.2M251.0 8.1 L249.0 10.0 L246.0 12.6 L243.1 15.2 L240.2 18.0 L237.3 20.7 L234.4 23.5 L231.5 26.4 L228.6 29.3 L228.2 29.7 L225.7 32.2 L222.8 35.1 L219.9 38.1 L217.0 41.1 L214.1 44.2 L211.2 47.3 L208.3 50.6 L207.7 51.3 L205.4 53.6 L202.5 56.6 L199.6 59.7 L196.7 62.9 L193.8 66.1 L190.9 69.4 L188.0 72.8 L187.9 72.9 L185.1 76.2 L182.2 79.6 L179.3 83.2 L176.4 86.8 L173.5 90.5 L170.6 94.3 L170.5 94.5 L167.7 97.8 L164.8 101.3 L161.9 104.9 L159.0 108.6 L156.1 112.5 L153.4 116.1 L153.2 116.4 L150.3 120.2 L147.4 124.1 L144.5 128.2 L141.6 132.4 L138.7 136.7 L138.0 137.7 L135.8 141.0 L132.9 145.3 L130.0 149.8 L127.1 154.5 L124.2 159.2 L124.2 159.4 L121.3 163.8 L118.4 168.5 L115.5 173.3 L112.6 178.3 L111.1 180.8 L109.7 183.3 L106.7 188.4 L103.8 193.6 L100.9 199.2 L99.3 202.4 L98.0 204.8 L95.1 210.4 L92.2 216.3 L89.3 222.5 L88.7 224.0 L86.4 228.9 L83.5 235.7 L80.6 242.9 L79.6 245.6 L77.7 250.6 L74.8 258.8 L72.2 267.2M267.7 8.1 L266.4 9.2 L263.5 11.6 L260.6 14.1 L257.7 16.6 L254.8 19.2 L251.9 21.7 L249.0 24.4 L246.0 27.0 L243.2 29.7 L243.1 29.7 L240.2 32.4 L237.3 35.2 L234.4 37.9 L231.5 40.8 L228.6 43.6 L225.7 46.6 L222.8 49.5 L221.2 51.3 L219.9 52.5 L217.0 55.3 L214.1 58.1 L211.2 61.0 L208.3 64.0 L205.4 67.0 L202.5 70.1 L200.0 72.9 L199.6 73.3 L196.7 76.4 L193.8 79.6 L190.9 82.9 L188.0 86.3 L185.1 89.7 L182.2 93.2 L181.2 94.5 L179.3 96.6 L176.4 99.8 L173.5 103.2 L170.6 106.6 L167.7 110.1 L164.8 113.7 L162.9 116.1 L161.9 117.3 L159.0 120.9 L156.1 124.6 L153.2 128.4 L150.3 132.3 L147.4 136.3 L146.4 137.7 L144.5 140.3 L141.6 144.3 L138.7 148.5 L135.8 152.8 L132.9 157.2 L131.6 159.2 L130.0 161.6 L127.1 165.8 L124.2 170.2 L121.3 174.7 L118.4 179.4 L117.5 180.8 L115.5 184.1 L112.6 188.8 L109.7 193.7 L106.7 198.9 L104.8 202.4 L103.8 204.1 L100.9 209.3 L98.0 214.7 L95.1 220.4 L93.4 224.0 L92.2 226.3 L89.3 232.5 L86.4 239.0 L83.7 245.6 L83.5 245.9 L80.6 253.1 L77.7 260.8 L75.6 267.2M285.3 8.1 L283.8 9.2 L280.9 11.5 L278.0 13.8 L275.1 16.2 L272.2 18.5 L269.3 20.9 L266.4 23.4 L263.5 25.8 L260.6 28.3 L259.0 29.7 L257.7 30.9 L254.8 33.4 L251.9 36.0 L249.0 38.6 L246.0 41.2 L243.1 43.9 L240.2 46.6 L237.3 49.4 L235.4 51.3 L234.4 52.1 L231.5 54.8 L228.6 57.4 L225.7 60.1 L222.8 62.9 L219.9 65.7 L217.0 68.5 L214.1 71.4 L212.7 72.9 L211.2 74.4 L208.3 77.3 L205.4 80.4 L202.5 83.4 L199.6 86.6 L196.7 89.8 L193.8 93.0 L192.6 94.5 L190.9 96.2 L188.0 99.2 L185.1 102.3 L182.2 105.5 L179.3 108.7 L176.4 112.0 L173.5 115.4 L173.0 116.1 L170.6 118.8 L167.7 122.2 L164.8 125.6 L161.9 129.2 L159.0 132.8 L156.1 136.5 L155.2 137.7 L153.2 140.3 L150.3 144.1 L147.4 147.9 L144.5 151.9 L141.6 156.0 L139.4 159.2 L138.7 160.2 L135.8 164.1 L132.9 168.1 L130.0 172.3 L127.1 176.6 L124.3 180.8 L124.2 181.0 L121.3 185.3 L118.4 189.8 L115.5 194.4 L112.6 199.2 L110.7 202.4 L109.7 204.0 L106.7 208.9 L103.8 213.9 L100.9 219.1 L98.4 224.0 L98.0 224.6 L95.1 230.3 L92.2 236.3 L89.3 242.5 L88.0 245.6 L86.4 249.0 L83.5 255.8 L80.6 263.1 L79.1 267.2M303.9 8.1 L301.2 10.1 L298.3 12.2 L295.4 14.4 L292.5 16.6 L289.6 18.8 L286.7 21.0 L283.8 23.3 L280.9 25.6 L278.0 27.9 L275.8 29.7 L275.1 30.3 L272.2 32.6 L269.3 35.0 L266.4 37.5 L263.5 39.9 L260.6 42.4 L257.7 44.9 L254.8 47.5 L251.9 50.1 L250.5 51.3 L249.0 52.6 L246.0 55.0 L243.1 57.5 L240.2 60.1 L237.3 62.6 L234.4 65.2 L231.5 67.9 L228.6 70.6 L226.2 72.9 L225.7 73.3 L222.8 76.1 L219.9 78.9 L217.0 81.7 L214.1 84.6 L211.2 87.6 L208.3 90.6 L205.4 93.6 L204.6 94.5 L202.5 96.5 L199.6 99.4 L196.7 102.3 L193.8 105.2 L190.9 108.2 L188.0 111.3 L185.1 114.4 L183.6 116.1 L182.2 117.6 L179.3 120.7 L176.4 123.9 L173.5 127.2 L170.6 130.6 L167.7 134.0 L164.8 137.5 L164.6 137.7 L161.9 141.0 L159.0 144.5 L156.1 148.1 L153.2 151.9 L150.3 155.7 L147.6 159.2 L147.4 159.5 L144.5 163.2 L141.6 167.0 L138.7 170.8 L135.8 174.7 L132.9 178.8 L131.5 180.8 L130.0 182.9 L127.1 187.0 L124.2 191.2 L121.3 195.5 L118.4 200.0 L116.9 202.4 L115.5 204.5 L112.6 209.1 L109.7 213.8 L106.7 218.6 L103.8 223.7 L103.7 224.0 L100.9 229.0 L98.0 234.5 L95.1 240.2 L92.5 245.6 L92.2 246.2 L89.3 252.2 L86.4 258.7 L83.5 265.6 L82.9 267.2M315.7 13.7 L312.8 15.7 L309.9 17.8 L307.0 19.9 L304.1 22.0 L301.2 24.1 L298.3 26.2 L295.4 28.4 L293.7 29.7 L292.5 30.6 L289.6 32.8 L286.7 35.1 L283.8 37.3 L280.9 39.6 L278.0 42.0 L275.1 44.3 L272.2 46.7 L269.3 49.1 L266.6 51.3 L266.4 51.5 L263.5 53.8 L260.6 56.1 L257.7 58.5 L254.8 60.8 L251.9 63.2 L249.0 65.7 L246.0 68.1 L243.1 70.6 L240.6 72.9 L240.2 73.2 L237.3 75.8 L234.4 78.4 L231.5 81.1 L228.6 83.8 L225.7 86.5 L222.8 89.3 L219.9 92.1 L217.5 94.5 L217.0 94.9 L214.1 97.5 L211.2 100.2 L208.3 103.0 L205.4 105.7 L202.5 108.5 L199.6 111.4 L196.7 114.3 L195.0 116.1 L193.8 117.3 L190.9 120.2 L188.0 123.2 L185.1 126.3 L182.2 129.4 L179.3 132.5 L176.4 135.7 L174.7 137.7 L173.5 139.0 L170.6 142.3 L167.7 145.6 L164.8 149.0 L161.9 152.5 L159.0 156.1 L156.5 159.2 L156.1 159.7 L153.2 163.1 L150.3 166.6 L147.4 170.2 L144.5 173.8 L141.6 177.6 L139.1 180.8 L138.7 181.4 L135.8 185.2 L132.9 189.1 L130.0 193.1 L127.1 197.2 L124.2 201.4 L123.5 202.4 L121.3 205.6 L118.4 209.9 L115.5 214.3 L112.6 218.8 L109.7 223.5 L109.4 224.0 L106.7 228.5 L103.8 233.6 L100.9 238.9 L98.0 244.3 L97.4 245.6 L95.1 249.9 L92.2 255.7 L89.3 261.9 L87.0 267.2M309.0 267.2 L309.9 266.8 L312.8 265.5 L315.7 264.3M315.7 27.7 L312.9 29.7 L312.8 29.8 L309.9 31.8 L307.0 33.9 L304.1 36.1 L301.2 38.2 L298.3 40.3 L295.4 42.5 L292.5 44.7 L289.6 46.9 L286.7 49.1 L283.9 51.3 L283.8 51.4 L280.9 53.5 L278.0 55.7 L275.1 57.9 L272.2 60.1 L269.3 62.4 L266.4 64.6 L263.5 66.9 L260.6 69.2 L257.7 71.6 L256.0 72.9 L254.8 73.9 L251.9 76.4 L249.0 78.9 L246.0 81.4 L243.1 83.9 L240.2 86.4 L237.3 89.0 L234.4 91.6 L231.5 94.3 L231.3 94.5 L228.6 96.8 L225.7 99.3 L222.8 101.8 L219.9 104.4 L217.0 107.0 L214.1 109.6 L211.2 112.3 L208.3 115.0 L207.2 116.1 L205.4 117.8 L202.5 120.6 L199.6 123.4 L196.7 126.2 L193.8 129.1 L190.9 132.0 L188.0 135.0 L185.5 137.7 L185.1 138.0 L182.2 141.1 L179.3 144.3 L176.4 147.4 L173.5 150.6 L170.6 153.9 L167.7 157.2 L166.0 159.2 L164.8 160.5 L161.9 163.8 L159.0 167.1 L156.1 170.4 L153.2 173.8 L150.3 177.3 L147.4 180.8 L147.4 180.8 L144.5 184.4 L141.6 188.0 L138.7 191.7 L135.8 195.5 L132.9 199.4 L130.6 202.4 L130.0 203.3 L127.1 207.3 L124.2 211.3 L121.3 215.4 L118.4 219.7 L115.5 224.0 L115.5 224.0 L112.6 228.7 L109.7 233.5 L106.7 238.4 L103.8 243.5 L102.7 245.6 L100.9 248.6 L98.0 253.9 L95.1 259.4 L92.2 265.3 L91.3 267.2M297.2 267.2 L298.3 266.7 L301.2 265.3 L304.1 264.0 L307.0 262.8 L309.9 261.6 L312.8 260.4 L315.7 259.3M315.7 42.0 L312.8 44.0 L309.9 46.1 L307.0 48.1 L304.1 50.2 L302.6 51.3 L301.2 52.3 L298.3 54.3 L295.4 56.4 L292.5 58.4 L289.6 60.5 L286.7 62.6 L283.8 64.7 L280.9 66.8 L278.0 69.0 L275.1 71.1 L272.8 72.9 L272.2 73.4 L269.3 75.6 L266.4 78.0 L263.5 80.3 L260.6 82.6 L257.7 85.0 L254.8 87.4 L251.9 89.8 L249.0 92.2 L246.3 94.5 L246.0 94.7 L243.1 97.0 L240.2 99.4 L237.3 101.8 L234.4 104.2 L231.5 106.6 L228.6 109.0 L225.7 111.5 L222.8 114.0 L220.5 116.1 L219.9 116.6 L217.0 119.2 L214.1 121.8 L211.2 124.4 L208.3 127.1 L205.4 129.8 L202.5 132.5 L199.6 135.3 L197.2 137.7 L196.7 138.1 L193.8 141.0 L190.9 144.0 L188.0 146.9 L185.1 149.9 L182.2 152.9 L179.3 156.0 L176.4 159.1 L176.3 159.2 L173.5 162.1 L170.6 165.2 L167.7 168.3 L164.8 171.4 L161.9 174.6 L159.0 177.9 L156.4 180.8 L156.1 181.2 L153.2 184.5 L150.3 187.9 L147.4 191.3 L144.5 194.8 L141.6 198.4 L138.7 202.0 L138.4 202.4 L135.8 205.7 L132.9 209.5 L130.0 213.3 L127.1 217.2 L124.2 221.2 L122.1 224.0 L121.3 225.3 L118.4 229.7 L115.5 234.2 L112.6 238.8 L109.7 243.5 L108.4 245.6 L106.7 248.3 L103.8 253.2 L100.9 258.2 L98.0 263.4 L96.1 267.2M285.2 267.2 L286.7 266.4 L289.6 265.0 L292.5 263.6 L295.4 262.3 L298.3 261.0 L301.2 259.8 L304.1 258.6 L307.0 257.4 L309.9 256.3 L312.8 255.2 L315.7 254.2M315.7 56.2 L312.8 58.1 L309.9 60.0 L307.0 62.0 L304.1 63.9 L301.2 65.9 L298.3 67.9 L295.4 69.9 L292.5 71.9 L291.1 72.9 L289.6 74.0 L286.7 76.1 L283.8 78.3 L280.9 80.5 L278.0 82.7 L275.1 84.9 L272.2 87.1 L269.3 89.3 L266.4 91.6 L263.5 93.9 L262.7 94.5 L260.6 96.1 L257.7 98.3 L254.8 100.5 L251.9 102.8 L249.0 105.0 L246.0 107.3 L243.1 109.6 L240.2 111.9 L237.3 114.2 L235.0 116.1 L234.4 116.5 L231.5 119.0 L228.6 121.5 L225.7 123.9 L222.8 126.4 L219.9 128.9 L217.0 131.5 L214.1 134.0 L211.2 136.6 L210.0 137.7 L208.3 139.3 L205.4 142.0 L202.5 144.7 L199.6 147.5 L196.7 150.3 L193.8 153.1 L190.9 155.9 L188.0 158.8 L187.6 159.2 L185.1 161.7 L182.2 164.6 L179.3 167.4 L176.4 170.4 L173.5 173.3 L170.6 176.3 L167.7 179.3 L166.2 180.8 L164.8 182.4 L161.9 185.6 L159.0 188.7 L156.1 192.0 L153.2 195.2 L150.3 198.5 L147.4 201.9 L146.9 202.4 L144.5 205.3 L141.6 208.8 L138.7 212.4 L135.8 216.0 L132.9 219.6 L130.0 223.3 L129.4 224.0 L127.1 227.4 L124.2 231.6 L121.3 235.8 L118.4 240.1 L115.5 244.4 L114.7 245.6 L112.6 248.9 L109.7 253.4 L106.7 258.0 L103.8 262.8 L101.3 267.2M272.8 267.2 L275.1 265.9 L278.0 264.4 L280.9 262.9 L283.8 261.5 L286.7 260.2 L289.6 258.9 L292.5 257.6 L295.4 256.5 L298.3 255.3 L301.2 254.2 L304.1 253.1 L307.0 252.1 L309.9 251.1 L312.8 250.1 L315.7 249.1M315.7 70.1 L312.8 71.9 L311.4 72.9 L309.9 73.9 L307.0 75.9 L304.1 78.0 L301.2 80.0 L298.3 82.0 L295.4 84.1 L292.5 86.1 L289.6 88.2 L286.7 90.3 L283.8 92.4 L280.9 94.5 L280.9 94.5 L278.0 96.5 L275.1 98.6 L272.2 100.7 L269.3 102.8 L266.4 104.9 L263.5 107.0 L260.6 109.1 L257.7 111.2 L254.8 113.4 L251.9 115.5 L251.1 116.1 L249.0 117.8 L246.0 120.1 L243.1 122.4 L240.2 124.7 L237.3 127.1 L234.4 129.4 L231.5 131.7 L228.6 134.1 L225.7 136.5 L224.3 137.7 L222.8 138.9 L219.9 141.5 L217.0 144.1 L214.1 146.7 L211.2 149.2 L208.3 151.8 L205.4 154.5 L202.5 157.1 L200.2 159.2 L199.6 159.8 L196.7 162.5 L193.8 165.2 L190.9 167.9 L188.0 170.6 L185.1 173.3 L182.2 176.0 L179.3 178.8 L177.2 180.8 L176.4 181.7 L173.5 184.6 L170.6 187.6 L167.7 190.6 L164.8 193.6 L161.9 196.6 L159.0 199.7 L156.4 202.4 L156.1 202.8 L153.2 206.1 L150.3 209.3 L147.4 212.6 L144.5 216.0 L141.6 219.3 L138.7 222.7 L137.6 224.0 L135.8 226.5 L132.9 230.4 L130.0 234.3 L127.1 238.2 L124.2 242.2 L121.7 245.6 L121.3 246.3 L118.4 250.4 L115.5 254.6 L112.6 258.8 L109.7 263.2 L107.1 267.2M259.9 267.2 L260.6 266.8 L263.5 265.0 L266.4 263.4 L269.3 261.8 L272.2 260.4 L275.1 259.0 L278.0 257.6 L280.9 256.3 L283.8 255.1 L286.7 253.9 L289.6 252.8 L292.5 251.7 L295.4 250.6 L298.3 249.6 L301.2 248.6 L304.1 247.7 L307.0 246.7 L309.9 245.8 L310.6 245.6 L312.8 244.4 L315.7 242.9M315.7 85.0 L312.8 86.9 L309.9 88.9 L307.0 90.8 L304.1 92.7 L301.4 94.5 L301.2 94.6 L298.3 96.6 L295.4 98.5 L292.5 100.5 L289.6 102.4 L286.7 104.4 L283.8 106.3 L280.9 108.3 L278.0 110.2 L275.1 112.2 L272.2 114.1 L269.3 116.1 L269.3 116.1 L266.4 118.3 L263.5 120.5 L260.6 122.6 L257.7 124.8 L254.8 127.0 L251.9 129.1 L249.0 131.3 L246.0 133.4 L243.1 135.6 L240.5 137.7 L240.2 137.8 L237.3 140.3 L234.4 142.7 L231.5 145.1 L228.6 147.5 L225.7 149.9 L222.8 152.3 L219.9 154.7 L217.0 157.1 L214.5 159.2 L214.1 159.5 L211.2 162.1 L208.3 164.6 L205.4 167.1 L202.5 169.6 L199.6 172.2 L196.7 174.7 L193.8 177.2 L190.9 179.7 L189.7 180.8 L188.0 182.5 L185.1 185.2 L182.2 188.0 L179.3 190.8 L176.4 193.6 L173.5 196.3 L170.6 199.1 L167.7 201.9 L167.2 202.4 L164.8 205.0 L161.9 208.1 L159.0 211.1 L156.1 214.2 L153.2 217.3 L150.3 220.3 L147.4 223.5 L146.9 224.0 L144.5 227.1 L141.6 230.8 L138.7 234.4 L135.8 238.0 L132.9 241.7 L130.0 245.4 L129.8 245.6 L127.1 249.2 L124.2 253.0 L121.3 256.8 L118.4 260.7 L115.5 264.7 L113.7 267.2M246.1 267.2 L249.0 265.2 L251.9 263.4 L254.8 261.6 L257.7 260.0 L260.6 258.5 L263.5 257.0 L266.4 255.7 L269.3 254.4 L272.2 253.1 L275.1 252.0 L278.0 250.8 L280.9 249.7 L283.8 248.7 L286.7 247.7 L289.6 246.7 L292.5 245.7 L292.9 245.6 L295.4 244.1 L298.3 242.5 L301.2 240.9 L304.1 239.4 L307.0 237.9 L309.9 236.5 L312.8 235.2 L315.7 233.9M315.7 100.5 L312.8 102.3 L309.9 104.1 L307.0 105.9 L304.1 107.7 L301.2 109.5 L298.3 111.3 L295.4 113.1 L292.5 114.9 L290.5 116.1 L289.6 116.7 L286.7 118.8 L283.8 120.8 L280.9 122.9 L278.0 124.9 L275.1 126.9 L272.2 128.9 L269.3 130.8 L266.4 132.8 L263.5 134.8 L260.6 136.8 L259.3 137.7 L257.7 139.0 L254.8 141.2 L251.9 143.5 L249.0 145.7 L246.0 147.9 L243.1 150.2 L240.2 152.4 L237.3 154.6 L234.4 156.7 L231.5 158.9 L231.1 159.2 L228.6 161.3 L225.7 163.7 L222.8 166.1 L219.9 168.4 L217.0 170.7 L214.1 173.0 L211.2 175.3 L208.3 177.6 L205.4 179.9 L204.3 180.8 L202.5 182.5 L199.6 185.1 L196.7 187.7 L193.8 190.3 L190.9 192.8 L188.0 195.3 L185.1 197.9 L182.2 200.4 L179.9 202.4 L179.3 203.0 L176.4 205.9 L173.5 208.8 L170.6 211.7 L167.7 214.5 L164.8 217.3 L161.9 220.0 L159.0 222.8 L157.8 224.0 L156.1 226.1 L153.2 229.6 L150.3 233.0 L147.4 236.3 L144.5 239.7 L141.6 243.0 L139.3 245.6 L138.7 246.3 L135.8 249.9 L132.9 253.4 L130.0 256.8 L127.1 260.3 L124.2 263.8 L121.4 267.2M230.6 267.2 L231.5 266.4 L234.4 264.2 L237.3 262.1 L240.2 260.2 L243.1 258.5 L246.0 256.9 L249.0 255.4 L251.9 254.0 L254.8 252.6 L257.7 251.4 L260.6 250.2 L263.5 249.1 L266.4 248.0 L269.3 246.9 L272.2 245.9 L273.1 245.6 L275.1 244.3 L278.0 242.5 L280.9 240.7 L283.8 239.0 L286.7 237.5 L289.6 236.0 L292.5 234.6 L295.4 233.2 L298.3 231.9 L301.2 230.6 L304.1 229.4 L307.0 228.2 L309.9 227.1 L312.8 226.0 L315.7 224.9M315.7 116.5 L312.8 118.4 L309.9 120.4 L307.0 122.3 L304.1 124.1 L301.2 126.0 L298.3 127.8 L295.4 129.6 L292.5 131.4 L289.6 133.2 L286.7 135.0 L283.8 136.8 L282.3 137.7 L280.9 138.7 L278.0 140.9 L275.1 143.0 L272.2 145.1 L269.3 147.2 L266.4 149.2 L263.5 151.2 L260.6 153.2 L257.7 155.2 L254.8 157.1 L251.9 159.1 L251.6 159.2 L249.0 161.4 L246.0 163.7 L243.1 165.9 L240.2 168.0 L237.3 170.2 L234.4 172.3 L231.5 174.3 L228.6 176.4 L225.7 178.4 L222.8 180.5 L222.3 180.8 L219.9 182.9 L217.0 185.4 L214.1 187.8 L211.2 190.2 L208.3 192.5 L205.4 194.8 L202.5 197.1 L199.6 199.3 L196.7 201.5 L195.6 202.4 L193.8 204.1 L190.9 206.9 L188.0 209.6 L185.1 212.2 L182.2 214.7 L179.3 217.2 L176.4 219.7 L173.5 222.1 L171.3 224.0 L170.6 224.8 L167.7 228.2 L164.8 231.5 L161.9 234.6 L159.0 237.6 L156.1 240.6 L153.2 243.5 L151.1 245.6 L150.3 246.6 L147.4 249.9 L144.5 253.1 L141.6 256.2 L138.7 259.2 L135.8 262.2 L132.9 265.3 L131.1 267.2M211.6 267.2 L214.1 264.4 L217.0 261.7 L219.9 259.4 L222.8 257.3 L225.7 255.6 L228.6 253.9 L231.5 252.5 L234.4 251.1 L237.3 249.9 L240.2 248.7 L243.1 247.6 L246.0 246.5 L248.6 245.6 L249.0 245.4 L251.9 243.0 L254.8 240.9 L257.7 239.0 L260.6 237.2 L263.5 235.6 L266.4 234.1 L269.3 232.6 L272.2 231.3 L275.1 230.0 L278.0 228.7 L280.9 227.6 L283.8 226.4 L286.7 225.3 L289.6 224.3 L290.3 224.0 L292.5 222.4 L295.4 220.4 L298.3 218.6 L301.2 216.9 L304.1 215.4 L307.0 213.9 L309.9 212.5 L312.8 211.2 L315.7 210.0M315.7 136.4 L313.2 137.7 L312.8 138.0 L309.9 140.2 L307.0 142.2 L304.1 144.2 L301.2 146.2 L298.3 148.0 L295.4 149.9 L292.5 151.6 L289.6 153.4 L286.7 155.1 L283.8 156.8 L280.9 158.4 L279.4 159.2 L278.0 160.4 L275.1 162.7 L272.2 164.9 L269.3 166.9 L266.4 168.9 L263.5 170.8 L260.6 172.7 L257.7 174.5 L254.8 176.2 L251.9 178.0 L249.0 179.7 L247.0 180.8 L246.0 181.7 L243.1 184.2 L240.2 186.6 L237.3 188.8 L234.4 191.0 L231.5 193.0 L228.6 195.0 L225.7 196.9 L222.8 198.8 L219.9 200.7 L217.2 202.4 L217.0 202.6 L214.1 205.5 L211.2 208.1 L208.3 210.6 L205.4 212.9 L202.5 215.1 L199.6 217.3 L196.7 219.4 L193.8 221.4 L190.9 223.4 L190.1 224.0 L188.0 226.7 L185.1 230.0 L182.2 233.0 L179.3 235.8 L176.4 238.5 L173.5 241.0 L170.6 243.4 L167.9 245.6 L167.7 245.9 L164.8 249.2 L161.9 252.2 L159.0 254.9 L156.1 257.5 L153.2 260.0 L150.3 262.5 L147.4 264.9 L144.5 267.2" fill="none" stroke="#000" stroke-opacity="0.95" stroke-width="0.55"/>
</g>
<rect x="40.0" y="8.1" width="275.7" height="259.1" fill="none" stroke="#262626" stroke-width="0.6"/>
<path d="M40.0 51.3h2.6M315.7 51.3h-2.6M40.0 94.5h2.6M315.7 94.5h-2.6M40.0 137.7h2.6M315.7 137.7h-2.6M40.0 180.8h2.6M315.7 180.8h-2.6M40.0 224.0h2.6M315.7 224.0h-2.6M98.0 267.2v-2.6M98.0 8.1v2.6M170.6 267.2v-2.6M170.6 8.1v2.6M243.1 267.2v-2.6M243.1 8.1v2.6" stroke="#262626" stroke-width="0.6"/>
<rect x="46.1" y="238" width="23.9" height="25.7" fill="#fff"/>
<text class="s" transform="translate(58.1,258.0) scale(1.000,1)" font-size="15.0" text-anchor="middle">a</text>
<text transform="translate(36.6,13.0) scale(1.000,1)" font-size="12.3" text-anchor="end">1</text>
<text transform="translate(36.6,56.2) scale(1.000,1)" font-size="12.3" text-anchor="end">0.9</text>
<text transform="translate(36.6,99.4) scale(1.000,1)" font-size="12.3" text-anchor="end">0.8</text>
<text transform="translate(36.6,142.6) scale(1.000,1)" font-size="12.3" text-anchor="end">0.7</text>
<text transform="translate(36.6,185.7) scale(1.000,1)" font-size="12.3" text-anchor="end">0.6</text>
<text transform="translate(36.6,228.9) scale(1.000,1)" font-size="12.3" text-anchor="end">0.5</text>
<text transform="translate(36.6,272.1) scale(1.000,1)" font-size="12.3" text-anchor="end">0.4</text>
<text transform="translate(98.0,283.5) scale(1.000,1)" font-size="12.3" text-anchor="middle">500</text>
<text transform="translate(170.6,283.5) scale(1.000,1)" font-size="12.3" text-anchor="middle">1000</text>
<text transform="translate(243.1,283.5) scale(1.000,1)" font-size="12.3" text-anchor="middle">1500</text>
<text transform="translate(315.7,283.5) scale(1.000,1)" font-size="12.3" text-anchor="middle">2000</text>
<text transform="translate(177.4,300.0) scale(1.000,1)" font-size="13.1" text-anchor="middle">WG length [μm]</text>
<text transform="translate(15.2,138) scale(1.000,1) rotate(-90)" font-size="13.2" text-anchor="middle">Si Thickness[μm]</text>
<rect x="334.3" y="8.1" width="10.2" height="259.1" fill="url(#cb)"/>
<path d="M341.9 26.8H344.5" stroke="#262626" stroke-width="0.6"/>
<text transform="translate(347.3,30.9) scale(1.000,1)" font-size="12.3" text-anchor="start">0.12</text>
<path d="M341.9 69.2H344.5" stroke="#262626" stroke-width="0.6"/>
<text transform="translate(347.3,73.3) scale(1.000,1)" font-size="12.3" text-anchor="start">0.1</text>
<path d="M341.9 111.6H344.5" stroke="#262626" stroke-width="0.6"/>
<text transform="translate(347.3,115.7) scale(1.000,1)" font-size="12.3" text-anchor="start">0.08</text>
<path d="M341.9 154.0H344.5" stroke="#262626" stroke-width="0.6"/>
<text transform="translate(347.3,158.1) scale(1.000,1)" font-size="12.3" text-anchor="start">0.06</text>
<path d="M341.9 196.4H344.5" stroke="#262626" stroke-width="0.6"/>
<text transform="translate(347.3,200.5) scale(1.000,1)" font-size="12.3" text-anchor="start">0.04</text>
<path d="M341.9 238.8H344.5" stroke="#262626" stroke-width="0.6"/>
<text transform="translate(347.3,242.9) scale(1.000,1)" font-size="12.3" text-anchor="start">0.02</text>
<rect x="416.3" y="88" width="116.2" height="54.6" fill="#f7e2ae"/>
<rect x="416.3" y="142.6" width="117.6" height="15.4" fill="#c4c4c4"/>
<path d="M441.2 93.0 L441.4 103.0 L441.7 110.0 L442.3 116.5 L443.2 121.7 L444.4 126.5 L446.1 130.5 L448.6 133.8 L451.9 136.3 L456.5 138.5 L462.2 140.1 L469.0 141.5 L476.8 142.6 L441 142.6 L441 93Z" fill="#7fdcf0"/>
<path d="M476.8 157.7 L469.0 158.9 L462.2 160.3 L456.5 162.0 L451.9 164.1 L448.6 166.2 L446.1 168.5 L444.4 171.8 L443.2 175.8 L442.3 180.5 L441.7 186.0 L441.3 191.0 L441.1 196.3 L441 196.3 L441 157.7Z" fill="#7fdcf0"/>
<path d="M441.2 93.0 L441.4 103.0 L441.7 110.0 L442.3 116.5 L443.2 121.7 L444.4 126.5 L446.1 130.5 L448.6 133.8 L451.9 136.3 L456.5 138.5 L462.2 140.1 L469.0 141.5 L476.8 142.6 L497.3 145.7 L514.8 148.0 L521.5 149.2 L524.0 150.3 L521.5 151.6 L514.8 153.1 L497.3 155.3 L476.8 157.7 L469.0 158.9 L462.2 160.3 L456.5 162.0 L451.9 164.1 L448.6 166.2 L446.1 168.5 L444.4 171.8 L443.2 175.8 L442.3 180.5 L441.7 186.0 L441.3 191.0 L441.1 196.3" fill="none" stroke="#2222e6" stroke-width="1.2" stroke-linejoin="round"/>
<path d="M440.8 93V196.5" stroke="#1ee024" stroke-width="1.25" stroke-dasharray="3 1.1"/>
<path d="M429.5 118.2L444.4 131.5" stroke="#000" stroke-width="1.2"/>
<text class="s" transform="translate(399.6,94.3) scale(1.000,1)" font-size="13.9" text-anchor="start">Evanescent</text>
<text class="s" transform="translate(399.6,115.2) scale(1.000,1)" font-size="13.9" text-anchor="start">field</text>
<text class="s" transform="translate(507.8,111.5) scale(1.000,1)" font-size="14.2" text-anchor="start">Oil</text>
<text class="s" transform="translate(418.6,156.2) scale(1.000,1)" font-size="14.2" text-anchor="start">Si</text>
<text class="s" transform="translate(536.2,154.8) scale(1.000,1)" font-size="14.2" text-anchor="start">H</text>
<text class="s" transform="translate(504.4,190.3) scale(1.000,1)" font-size="14.2" text-anchor="start">Air</text>
<text class="s" transform="translate(465.0,230.6) scale(1.000,1)" font-size="14.2" text-anchor="start">b</text>
<path d="M531 146V155" stroke="#000" stroke-width="1.5"/><path d="M531 142.4L527.6 147.8H534.4Z M531 158.4L527.6 153H534.4Z" fill="#000"/>
</svg>
</body></html>
